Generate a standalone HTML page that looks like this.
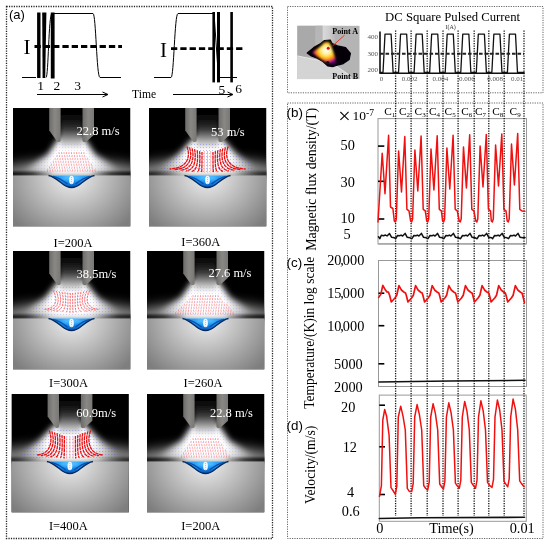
<!DOCTYPE html>
<html><head><meta charset="utf-8"><title>figure</title>
<style>html,body{margin:0;padding:0;background:#fff;}svg{display:block;}</style>
</head><body>
<svg width="550" height="545" viewBox="0 0 550 545">

<defs>
 <filter id="b2" x="-50%" y="-50%" width="200%" height="200%"><feGaussianBlur stdDeviation="2"/></filter>
 <filter id="b4" x="-50%" y="-50%" width="200%" height="200%"><feGaussianBlur stdDeviation="4"/></filter>
 <filter id="b6" x="-50%" y="-50%" width="200%" height="200%"><feGaussianBlur stdDeviation="6"/></filter>
 <filter id="b9" x="-50%" y="-50%" width="200%" height="200%"><feGaussianBlur stdDeviation="9"/></filter>
 <filter id="b3" x="-50%" y="-50%" width="200%" height="200%"><feGaussianBlur stdDeviation="3"/></filter>
 <filter id="b1" x="-50%" y="-50%" width="200%" height="200%"><feGaussianBlur stdDeviation="1"/></filter>
 <radialGradient id="plateG" cx="58.5" cy="68" r="75" gradientUnits="userSpaceOnUse" gradientTransform="translate(58.5 68) scale(1 0.9) translate(-58.5 -68)">
   <stop offset="0" stop-color="#ffffff"/>
   <stop offset="0.22" stop-color="#d8d8d8"/>
   <stop offset="0.55" stop-color="#b2b2b2"/>
   <stop offset="1" stop-color="#7e7e7e"/>
 </radialGradient>
 <linearGradient id="elG" x1="0" y1="0" x2="1" y2="0">
   <stop offset="0" stop-color="#6e6c6a"/>
   <stop offset="0.5" stop-color="#8a8885"/>
   <stop offset="1" stop-color="#7a7876"/>
 </linearGradient>
 <linearGradient id="colG" x1="0" y1="0" x2="0" y2="1">
   <stop offset="0" stop-color="#000"/>
   <stop offset="0.3" stop-color="#0c0c0c"/>
   <stop offset="0.55" stop-color="#3a3a3a"/>
   <stop offset="0.78" stop-color="#9a9a9a"/>
   <stop offset="1" stop-color="#f4f4f4"/>
 </linearGradient>
 <radialGradient id="bellG" cx="58.5" cy="44" r="60" gradientUnits="userSpaceOnUse">
   <stop offset="0" stop-color="#ffffff"/>
   <stop offset="0.38" stop-color="#ffffff"/>
   <stop offset="0.62" stop-color="#cccccc"/>
   <stop offset="0.85" stop-color="#808080"/>
   <stop offset="1" stop-color="#555555"/>
 </radialGradient>
 <linearGradient id="bandG" x1="0" y1="0" x2="1" y2="0">
   <stop offset="0" stop-color="#000" stop-opacity="0.85"/>
   <stop offset="0.2" stop-color="#000" stop-opacity="0.6"/>
   <stop offset="0.36" stop-color="#000" stop-opacity="0"/>
   <stop offset="0.64" stop-color="#000" stop-opacity="0"/>
   <stop offset="0.8" stop-color="#000" stop-opacity="0.6"/>
   <stop offset="1" stop-color="#000" stop-opacity="0.85"/>
 </linearGradient>
 <radialGradient id="poolG" cx="0.5" cy="0.1" r="0.75">
   <stop offset="0" stop-color="#4ab6ff"/>
   <stop offset="0.55" stop-color="#1a92f2"/>
   <stop offset="1" stop-color="#0c62c4"/>
 </radialGradient>
 <linearGradient id="insetBg" x1="0" y1="0" x2="1" y2="1">
   <stop offset="0" stop-color="#b8b8b8"/>
   <stop offset="1" stop-color="#c8c8c8"/>
 </linearGradient>
 <radialGradient id="hotG" cx="0.58" cy="0.38" r="0.62">
   <stop offset="0" stop-color="#ffffff"/>
   <stop offset="0.25" stop-color="#fff8b0"/>
   <stop offset="0.5" stop-color="#ffd020"/>
   <stop offset="0.68" stop-color="#ff7a10"/>
   <stop offset="0.82" stop-color="#c01880"/>
   <stop offset="1" stop-color="#3a0060"/>
 </radialGradient>
 <linearGradient id="colIns" x1="0" y1="0" x2="1" y2="0">
   <stop offset="0" stop-color="#dadada"/>
   <stop offset="0.5" stop-color="#cfcfcf"/>
   <stop offset="1" stop-color="#b8b8b8"/>
 </linearGradient>
</defs>

<rect width="550" height="545" fill="#fff"/>
<rect x="6.5" y="6.5" width="266" height="532" fill="none" stroke="#222" stroke-width="1.3" stroke-dasharray="1.2 1.25"/>
<text x="9" y="18.7" font-family="'Liberation Sans', sans-serif" font-size="13" fill="#000" text-anchor="start" font-weight="normal" >(a)</text>
<g stroke="#000" fill="none">
<path d="M22,77.5 L36,77.5 M46,77.5 C48.5,77.5 48.5,13.5 52,13.5 L93,13.5 C96,13.5 96.5,77.5 100,77.5 L121,77.5" stroke-width="1"/>
<line x1="34.5" y1="46.5" x2="122" y2="46.5" stroke-width="2.8" stroke-dasharray="6.3 3"/>
<rect x="37.1" y="12.5" width="3.4" height="65.5" fill="#000" stroke="none"/>
<path d="M42.2,12.5 L46.4,12.5 L45.2,78 L42.6,78 Z" fill="#000" stroke="none"/>
<rect x="50.8" y="12.5" width="3.8" height="66" fill="#000" stroke="none"/>
<line x1="37" y1="94.5" x2="107" y2="94.5" stroke-width="1"/>
<path d="M102.5,92 L108,94.5 L102.5,97" stroke-width="1"/>
</g>
<text x="23.6" y="53.5" font-family="'Liberation Serif', serif" font-size="21" fill="#000" text-anchor="start" font-weight="normal" >I</text>
<text x="37.2" y="89.5" font-family="'Liberation Serif', serif" font-size="13.5" fill="#000" text-anchor="start" font-weight="normal" >1</text>
<text x="53.6" y="89.5" font-family="'Liberation Serif', serif" font-size="13.5" fill="#000" text-anchor="start" font-weight="normal" >2</text>
<text x="74.3" y="89.5" font-family="'Liberation Serif', serif" font-size="13.5" fill="#000" text-anchor="start" font-weight="normal" >3</text>
<text x="132" y="98" font-family="'Liberation Serif', serif" font-size="11.6" fill="#000" text-anchor="start" font-weight="normal" >Time</text>
<g stroke="#000" fill="none">
<path d="M154,77.5 L171,77.5 C174,77.5 174.5,13.5 178,13.5 L213,13.5" stroke-width="1"/>
<path d="M214,13.5 L218.5,77.5 L237,77.5" stroke-width="1"/>
<line x1="171" y1="48.6" x2="244" y2="48.6" stroke-width="2.8" stroke-dasharray="6.3 3"/>
<rect x="212.4" y="12" width="2.6" height="70.4" fill="#000" stroke="none"/>
<rect x="217" y="12" width="3" height="70.4" fill="#000" stroke="none"/>
<rect x="230.3" y="12" width="2.6" height="70.4" fill="#000" stroke="none"/>
<line x1="173" y1="94.5" x2="232" y2="94.5" stroke-width="1"/>
<path d="M227.5,92 L233,94.5 L227.5,97" stroke-width="1"/>
</g>
<text x="160" y="57" font-family="'Liberation Serif', serif" font-size="21" fill="#000" text-anchor="start" font-weight="normal" >I</text>
<text x="218.6" y="94.4" font-family="'Liberation Serif', serif" font-size="13.5" fill="#000" text-anchor="start" font-weight="normal" >5</text>
<text x="235.3" y="93" font-family="'Liberation Serif', serif" font-size="13.5" fill="#000" text-anchor="start" font-weight="normal" >6</text>
<g transform="translate(13 108)">
<clipPath id="c13_108"><rect x="0" y="0" width="117.5" height="118.6"/></clipPath>
<g clip-path="url(#c13_108)">
<rect x="0" y="0" width="117.5" height="118.6" fill="#000"/>
<ellipse cx="58.5" cy="65" rx="74.0" ry="13.0" fill="#808080" filter="url(#b6)"/>
<path d="M46.0,30 C42.0,38 38.5,42 34.5,47 C24.5,54 13.5,60 2.5,68 L114.5,68 C103.5,60 92.5,54 82.5,47 C78.5,42 75.0,38 71.0,30 Z" fill="url(#bellG)" filter="url(#b3)"/>
<ellipse cx="58.5" cy="46.0" rx="17.0" ry="12.0" fill="#fff" filter="url(#b4)"/>
<rect x="47" y="0" width="22.5" height="40" fill="url(#colG)" filter="url(#b2)"/>
<rect x="-6.0" y="63.5" width="129.5" height="4.5" fill="url(#bandG)" filter="url(#b1)"/>
<path d="M36.2,0 L47.6,0 L47.6,32.3 Q47.6,33.9 46,33.9 L44.5,33.9 L36.2,22.4 Z" fill="url(#elG)"/>
<path d="M69.5,0 L81,0 L81,26.8 L73,33.9 L71,33.9 Q69.5,33.9 69.5,32.3 Z" fill="url(#elG)"/>
<g fill="#4a4aff" opacity="0.22"><rect x="22" y="57" width="0.8" height="0.8"/><rect x="22" y="60" width="0.8" height="0.8"/><rect x="22" y="63" width="0.8" height="0.8"/><rect x="25" y="54" width="0.8" height="0.8"/><rect x="25" y="57" width="0.8" height="0.8"/><rect x="25" y="60" width="0.8" height="0.8"/><rect x="25" y="63" width="0.8" height="0.8"/><rect x="28" y="51" width="0.8" height="0.8"/><rect x="28" y="54" width="0.8" height="0.8"/><rect x="28" y="57" width="0.8" height="0.8"/><rect x="28" y="60" width="0.8" height="0.8"/><rect x="28" y="63" width="0.8" height="0.8"/><rect x="31" y="48" width="0.8" height="0.8"/><rect x="31" y="51" width="0.8" height="0.8"/><rect x="31" y="54" width="0.8" height="0.8"/><rect x="31" y="57" width="0.8" height="0.8"/><rect x="31" y="60" width="0.8" height="0.8"/><rect x="31" y="63" width="0.8" height="0.8"/><rect x="34" y="45" width="0.8" height="0.8"/><rect x="34" y="48" width="0.8" height="0.8"/><rect x="34" y="51" width="0.8" height="0.8"/><rect x="34" y="54" width="0.8" height="0.8"/><rect x="34" y="57" width="0.8" height="0.8"/><rect x="34" y="60" width="0.8" height="0.8"/><rect x="34" y="63" width="0.8" height="0.8"/><rect x="37" y="42" width="0.8" height="0.8"/><rect x="37" y="45" width="0.8" height="0.8"/><rect x="37" y="48" width="0.8" height="0.8"/><rect x="37" y="51" width="0.8" height="0.8"/><rect x="37" y="54" width="0.8" height="0.8"/><rect x="37" y="57" width="0.8" height="0.8"/><rect x="37" y="60" width="0.8" height="0.8"/><rect x="37" y="63" width="0.8" height="0.8"/><rect x="40" y="39" width="0.8" height="0.8"/><rect x="40" y="42" width="0.8" height="0.8"/><rect x="40" y="45" width="0.8" height="0.8"/><rect x="40" y="48" width="0.8" height="0.8"/><rect x="40" y="51" width="0.8" height="0.8"/><rect x="40" y="54" width="0.8" height="0.8"/><rect x="40" y="57" width="0.8" height="0.8"/><rect x="40" y="60" width="0.8" height="0.8"/><rect x="40" y="63" width="0.8" height="0.8"/><rect x="43" y="36" width="0.8" height="0.8"/><rect x="43" y="39" width="0.8" height="0.8"/><rect x="43" y="42" width="0.8" height="0.8"/><rect x="43" y="45" width="0.8" height="0.8"/><rect x="43" y="48" width="0.8" height="0.8"/><rect x="43" y="51" width="0.8" height="0.8"/><rect x="43" y="54" width="0.8" height="0.8"/><rect x="43" y="57" width="0.8" height="0.8"/><rect x="43" y="60" width="0.8" height="0.8"/><rect x="43" y="63" width="0.8" height="0.8"/><rect x="46" y="36" width="0.8" height="0.8"/><rect x="46" y="39" width="0.8" height="0.8"/><rect x="46" y="42" width="0.8" height="0.8"/><rect x="46" y="45" width="0.8" height="0.8"/><rect x="46" y="48" width="0.8" height="0.8"/><rect x="46" y="51" width="0.8" height="0.8"/><rect x="46" y="54" width="0.8" height="0.8"/><rect x="46" y="57" width="0.8" height="0.8"/><rect x="46" y="60" width="0.8" height="0.8"/><rect x="46" y="63" width="0.8" height="0.8"/><rect x="49" y="36" width="0.8" height="0.8"/><rect x="49" y="39" width="0.8" height="0.8"/><rect x="49" y="42" width="0.8" height="0.8"/><rect x="49" y="45" width="0.8" height="0.8"/><rect x="49" y="48" width="0.8" height="0.8"/><rect x="49" y="51" width="0.8" height="0.8"/><rect x="49" y="54" width="0.8" height="0.8"/><rect x="49" y="57" width="0.8" height="0.8"/><rect x="49" y="60" width="0.8" height="0.8"/><rect x="49" y="63" width="0.8" height="0.8"/><rect x="52" y="36" width="0.8" height="0.8"/><rect x="52" y="39" width="0.8" height="0.8"/><rect x="52" y="42" width="0.8" height="0.8"/><rect x="52" y="45" width="0.8" height="0.8"/><rect x="52" y="48" width="0.8" height="0.8"/><rect x="52" y="51" width="0.8" height="0.8"/><rect x="52" y="54" width="0.8" height="0.8"/><rect x="52" y="57" width="0.8" height="0.8"/><rect x="52" y="60" width="0.8" height="0.8"/><rect x="52" y="63" width="0.8" height="0.8"/><rect x="55" y="36" width="0.8" height="0.8"/><rect x="55" y="39" width="0.8" height="0.8"/><rect x="55" y="42" width="0.8" height="0.8"/><rect x="55" y="45" width="0.8" height="0.8"/><rect x="55" y="48" width="0.8" height="0.8"/><rect x="55" y="51" width="0.8" height="0.8"/><rect x="55" y="54" width="0.8" height="0.8"/><rect x="55" y="57" width="0.8" height="0.8"/><rect x="55" y="60" width="0.8" height="0.8"/><rect x="55" y="63" width="0.8" height="0.8"/><rect x="58" y="36" width="0.8" height="0.8"/><rect x="58" y="39" width="0.8" height="0.8"/><rect x="58" y="42" width="0.8" height="0.8"/><rect x="58" y="45" width="0.8" height="0.8"/><rect x="58" y="48" width="0.8" height="0.8"/><rect x="58" y="51" width="0.8" height="0.8"/><rect x="58" y="54" width="0.8" height="0.8"/><rect x="58" y="57" width="0.8" height="0.8"/><rect x="58" y="60" width="0.8" height="0.8"/><rect x="58" y="63" width="0.8" height="0.8"/><rect x="61" y="36" width="0.8" height="0.8"/><rect x="61" y="39" width="0.8" height="0.8"/><rect x="61" y="42" width="0.8" height="0.8"/><rect x="61" y="45" width="0.8" height="0.8"/><rect x="61" y="48" width="0.8" height="0.8"/><rect x="61" y="51" width="0.8" height="0.8"/><rect x="61" y="54" width="0.8" height="0.8"/><rect x="61" y="57" width="0.8" height="0.8"/><rect x="61" y="60" width="0.8" height="0.8"/><rect x="61" y="63" width="0.8" height="0.8"/><rect x="64" y="36" width="0.8" height="0.8"/><rect x="64" y="39" width="0.8" height="0.8"/><rect x="64" y="42" width="0.8" height="0.8"/><rect x="64" y="45" width="0.8" height="0.8"/><rect x="64" y="48" width="0.8" height="0.8"/><rect x="64" y="51" width="0.8" height="0.8"/><rect x="64" y="54" width="0.8" height="0.8"/><rect x="64" y="57" width="0.8" height="0.8"/><rect x="64" y="60" width="0.8" height="0.8"/><rect x="64" y="63" width="0.8" height="0.8"/><rect x="67" y="36" width="0.8" height="0.8"/><rect x="67" y="39" width="0.8" height="0.8"/><rect x="67" y="42" width="0.8" height="0.8"/><rect x="67" y="45" width="0.8" height="0.8"/><rect x="67" y="48" width="0.8" height="0.8"/><rect x="67" y="51" width="0.8" height="0.8"/><rect x="67" y="54" width="0.8" height="0.8"/><rect x="67" y="57" width="0.8" height="0.8"/><rect x="67" y="60" width="0.8" height="0.8"/><rect x="67" y="63" width="0.8" height="0.8"/><rect x="70" y="36" width="0.8" height="0.8"/><rect x="70" y="39" width="0.8" height="0.8"/><rect x="70" y="42" width="0.8" height="0.8"/><rect x="70" y="45" width="0.8" height="0.8"/><rect x="70" y="48" width="0.8" height="0.8"/><rect x="70" y="51" width="0.8" height="0.8"/><rect x="70" y="54" width="0.8" height="0.8"/><rect x="70" y="57" width="0.8" height="0.8"/><rect x="70" y="60" width="0.8" height="0.8"/><rect x="70" y="63" width="0.8" height="0.8"/><rect x="73" y="36" width="0.8" height="0.8"/><rect x="73" y="39" width="0.8" height="0.8"/><rect x="73" y="42" width="0.8" height="0.8"/><rect x="73" y="45" width="0.8" height="0.8"/><rect x="73" y="48" width="0.8" height="0.8"/><rect x="73" y="51" width="0.8" height="0.8"/><rect x="73" y="54" width="0.8" height="0.8"/><rect x="73" y="57" width="0.8" height="0.8"/><rect x="73" y="60" width="0.8" height="0.8"/><rect x="73" y="63" width="0.8" height="0.8"/><rect x="76" y="36" width="0.8" height="0.8"/><rect x="76" y="39" width="0.8" height="0.8"/><rect x="76" y="42" width="0.8" height="0.8"/><rect x="76" y="45" width="0.8" height="0.8"/><rect x="76" y="48" width="0.8" height="0.8"/><rect x="76" y="51" width="0.8" height="0.8"/><rect x="76" y="54" width="0.8" height="0.8"/><rect x="76" y="57" width="0.8" height="0.8"/><rect x="76" y="60" width="0.8" height="0.8"/><rect x="76" y="63" width="0.8" height="0.8"/><rect x="79" y="39" width="0.8" height="0.8"/><rect x="79" y="42" width="0.8" height="0.8"/><rect x="79" y="45" width="0.8" height="0.8"/><rect x="79" y="48" width="0.8" height="0.8"/><rect x="79" y="51" width="0.8" height="0.8"/><rect x="79" y="54" width="0.8" height="0.8"/><rect x="79" y="57" width="0.8" height="0.8"/><rect x="79" y="60" width="0.8" height="0.8"/><rect x="79" y="63" width="0.8" height="0.8"/><rect x="82" y="45" width="0.8" height="0.8"/><rect x="82" y="48" width="0.8" height="0.8"/><rect x="82" y="51" width="0.8" height="0.8"/><rect x="82" y="54" width="0.8" height="0.8"/><rect x="82" y="57" width="0.8" height="0.8"/><rect x="82" y="60" width="0.8" height="0.8"/><rect x="82" y="63" width="0.8" height="0.8"/><rect x="85" y="48" width="0.8" height="0.8"/><rect x="85" y="51" width="0.8" height="0.8"/><rect x="85" y="54" width="0.8" height="0.8"/><rect x="85" y="57" width="0.8" height="0.8"/><rect x="85" y="60" width="0.8" height="0.8"/><rect x="85" y="63" width="0.8" height="0.8"/><rect x="88" y="51" width="0.8" height="0.8"/><rect x="88" y="54" width="0.8" height="0.8"/><rect x="88" y="57" width="0.8" height="0.8"/><rect x="88" y="60" width="0.8" height="0.8"/><rect x="88" y="63" width="0.8" height="0.8"/><rect x="91" y="54" width="0.8" height="0.8"/><rect x="91" y="57" width="0.8" height="0.8"/><rect x="91" y="60" width="0.8" height="0.8"/><rect x="91" y="63" width="0.8" height="0.8"/><rect x="94" y="57" width="0.8" height="0.8"/><rect x="94" y="60" width="0.8" height="0.8"/><rect x="94" y="63" width="0.8" height="0.8"/></g>
<g stroke="#ff3030" stroke-width="0.75" opacity="0.55"><line x1="46.0" y1="44.0" x2="46.0" y2="46.0"/><line x1="48.5" y1="44.0" x2="48.5" y2="46.0"/><line x1="51.0" y1="44.0" x2="51.0" y2="46.0"/><line x1="53.5" y1="44.0" x2="53.5" y2="46.0"/><line x1="56.0" y1="44.0" x2="56.0" y2="46.0"/><line x1="58.5" y1="44.0" x2="58.5" y2="46.0"/><line x1="61.0" y1="44.0" x2="61.0" y2="46.0"/><line x1="63.5" y1="44.0" x2="63.5" y2="46.0"/><line x1="66.0" y1="44.0" x2="66.0" y2="46.0"/><line x1="68.5" y1="44.0" x2="68.5" y2="46.0"/><line x1="71.0" y1="44.0" x2="71.0" y2="46.0"/><line x1="44.1" y1="46.9" x2="44.1" y2="48.9"/><line x1="46.6" y1="46.9" x2="46.6" y2="48.9"/><line x1="49.1" y1="46.9" x2="49.1" y2="48.9"/><line x1="51.6" y1="46.9" x2="51.6" y2="48.9"/><line x1="54.1" y1="46.9" x2="54.1" y2="48.9"/><line x1="56.6" y1="46.9" x2="56.6" y2="48.9"/><line x1="59.1" y1="46.9" x2="59.1" y2="48.9"/><line x1="61.6" y1="46.9" x2="61.6" y2="48.9"/><line x1="64.1" y1="46.9" x2="64.1" y2="48.9"/><line x1="66.6" y1="46.9" x2="66.6" y2="48.9"/><line x1="69.1" y1="46.9" x2="69.1" y2="48.9"/><line x1="71.6" y1="46.9" x2="71.6" y2="48.9"/><line x1="42.2" y1="49.8" x2="42.2" y2="51.8"/><line x1="44.7" y1="49.8" x2="44.7" y2="51.8"/><line x1="47.2" y1="49.8" x2="47.2" y2="51.8"/><line x1="49.7" y1="49.8" x2="49.7" y2="51.8"/><line x1="52.2" y1="49.8" x2="52.2" y2="51.8"/><line x1="54.7" y1="49.8" x2="54.7" y2="51.8"/><line x1="57.2" y1="49.8" x2="57.2" y2="51.8"/><line x1="59.7" y1="49.8" x2="59.7" y2="51.8"/><line x1="62.2" y1="49.8" x2="62.2" y2="51.8"/><line x1="64.7" y1="49.8" x2="64.7" y2="51.8"/><line x1="67.2" y1="49.8" x2="67.2" y2="51.8"/><line x1="69.7" y1="49.8" x2="69.7" y2="51.8"/><line x1="72.2" y1="49.8" x2="72.2" y2="51.8"/><line x1="74.7" y1="49.8" x2="74.7" y2="51.8"/><line x1="40.3" y1="52.7" x2="40.3" y2="54.7"/><line x1="42.8" y1="52.7" x2="42.8" y2="54.7"/><line x1="45.3" y1="52.7" x2="45.3" y2="54.7"/><line x1="47.8" y1="52.7" x2="47.8" y2="54.7"/><line x1="50.3" y1="52.7" x2="50.3" y2="54.7"/><line x1="52.8" y1="52.7" x2="52.8" y2="54.7"/><line x1="55.3" y1="52.7" x2="55.3" y2="54.7"/><line x1="57.8" y1="52.7" x2="57.8" y2="54.7"/><line x1="60.3" y1="52.7" x2="60.3" y2="54.7"/><line x1="62.8" y1="52.7" x2="62.8" y2="54.7"/><line x1="65.3" y1="52.7" x2="65.3" y2="54.7"/><line x1="67.8" y1="52.7" x2="67.8" y2="54.7"/><line x1="70.3" y1="52.7" x2="70.3" y2="54.7"/><line x1="72.8" y1="52.7" x2="72.8" y2="54.7"/><line x1="75.3" y1="52.7" x2="75.3" y2="54.7"/><line x1="38.4" y1="55.6" x2="38.4" y2="57.6"/><line x1="40.9" y1="55.6" x2="40.9" y2="57.6"/><line x1="43.4" y1="55.6" x2="43.4" y2="57.6"/><line x1="45.9" y1="55.6" x2="45.9" y2="57.6"/><line x1="48.4" y1="55.6" x2="48.4" y2="57.6"/><line x1="50.9" y1="55.6" x2="50.9" y2="57.6"/><line x1="53.4" y1="55.6" x2="53.4" y2="57.6"/><line x1="55.9" y1="55.6" x2="55.9" y2="57.6"/><line x1="58.4" y1="55.6" x2="58.4" y2="57.6"/><line x1="60.9" y1="55.6" x2="60.9" y2="57.6"/><line x1="63.4" y1="55.6" x2="63.4" y2="57.6"/><line x1="65.9" y1="55.6" x2="65.9" y2="57.6"/><line x1="68.4" y1="55.6" x2="68.4" y2="57.6"/><line x1="70.9" y1="55.6" x2="70.9" y2="57.6"/><line x1="73.4" y1="55.6" x2="73.4" y2="57.6"/><line x1="75.9" y1="55.6" x2="75.9" y2="57.6"/><line x1="78.4" y1="55.6" x2="78.4" y2="57.6"/><line x1="36.5" y1="58.5" x2="36.5" y2="60.5"/><line x1="39.0" y1="58.5" x2="39.0" y2="60.5"/><line x1="41.5" y1="58.5" x2="41.5" y2="60.5"/><line x1="44.0" y1="58.5" x2="44.0" y2="60.5"/><line x1="46.5" y1="58.5" x2="46.5" y2="60.5"/><line x1="49.0" y1="58.5" x2="49.0" y2="60.5"/><line x1="51.5" y1="58.5" x2="51.5" y2="60.5"/><line x1="54.0" y1="58.5" x2="54.0" y2="60.5"/><line x1="56.5" y1="58.5" x2="56.5" y2="60.5"/><line x1="59.0" y1="58.5" x2="59.0" y2="60.5"/><line x1="61.5" y1="58.5" x2="61.5" y2="60.5"/><line x1="64.0" y1="58.5" x2="64.0" y2="60.5"/><line x1="66.5" y1="58.5" x2="66.5" y2="60.5"/><line x1="69.0" y1="58.5" x2="69.0" y2="60.5"/><line x1="71.5" y1="58.5" x2="71.5" y2="60.5"/><line x1="74.0" y1="58.5" x2="74.0" y2="60.5"/><line x1="76.5" y1="58.5" x2="76.5" y2="60.5"/><line x1="79.0" y1="58.5" x2="79.0" y2="60.5"/><line x1="34.6" y1="61.4" x2="34.6" y2="63.4"/><line x1="37.1" y1="61.4" x2="37.1" y2="63.4"/><line x1="39.6" y1="61.4" x2="39.6" y2="63.4"/><line x1="42.1" y1="61.4" x2="42.1" y2="63.4"/><line x1="44.6" y1="61.4" x2="44.6" y2="63.4"/><line x1="47.1" y1="61.4" x2="47.1" y2="63.4"/><line x1="49.6" y1="61.4" x2="49.6" y2="63.4"/><line x1="52.1" y1="61.4" x2="52.1" y2="63.4"/><line x1="54.6" y1="61.4" x2="54.6" y2="63.4"/><line x1="57.1" y1="61.4" x2="57.1" y2="63.4"/><line x1="59.6" y1="61.4" x2="59.6" y2="63.4"/><line x1="62.1" y1="61.4" x2="62.1" y2="63.4"/><line x1="64.6" y1="61.4" x2="64.6" y2="63.4"/><line x1="67.1" y1="61.4" x2="67.1" y2="63.4"/><line x1="69.6" y1="61.4" x2="69.6" y2="63.4"/><line x1="72.1" y1="61.4" x2="72.1" y2="63.4"/><line x1="74.6" y1="61.4" x2="74.6" y2="63.4"/><line x1="77.1" y1="61.4" x2="77.1" y2="63.4"/><line x1="79.6" y1="61.4" x2="79.6" y2="63.4"/><line x1="82.1" y1="61.4" x2="82.1" y2="63.4"/></g>
<rect x="0" y="67.5" width="117.5" height="51" fill="url(#plateG)"/>
<path d="M35.5,67.5 C40,68 44,71.5 49,75.5 C52.5,78.5 55.5,79.5 58.5,79.5 C61.5,79.5 64.5,78.5 68,75.5 C73,71.5 77,68 81.5,67.5 Z" fill="url(#poolG)"/>
<path d="M35.5,67.5 C40,68 44,71.5 49,75.5 C52.5,78.5 55.5,79.5 58.5,79.5 C61.5,79.5 64.5,78.5 68,75.5 C73,71.5 77,68 81.5,67.5" fill="none" stroke="#03285e" stroke-width="1.3"/>
<path d="M40,68.3 C46,69.5 50,72.5 54.5,76 M77,68.3 C71,69.5 67,72.5 62.5,76" stroke="#0a4fa8" stroke-width="1.3" fill="none"/>
<ellipse cx="58.5" cy="70" rx="9" ry="2.5" fill="#5cc4ff" opacity="0.6" filter="url(#b1)"/>
<ellipse cx="58.5" cy="72" rx="2.4" ry="4.3" fill="#eef8ff"/>
<path d="M58.5,69 L58.5,75.5" stroke="#5a9ae0" stroke-width="0.5" stroke-dasharray="1 1"/>
</g>
<text x="63.5" y="27.3" font-family="'Liberation Serif', serif" font-size="12.5" fill="#fff">22.8 m/s</text>
</g>
<g transform="translate(149 108)">
<clipPath id="c149_108"><rect x="0" y="0" width="117.5" height="118.6"/></clipPath>
<g clip-path="url(#c149_108)">
<rect x="0" y="0" width="117.5" height="118.6" fill="#000"/>
<ellipse cx="58.5" cy="65" rx="80.4" ry="14.6" fill="#808080" filter="url(#b6)"/>
<path d="M44.5,30 C38.0,38 33.7,42 28.7,47 C21.2,54 9.2,60 -2.9,68 L119.9,68 C107.8,60 95.8,54 88.3,47 C83.3,42 79.0,38 72.5,30 Z" fill="url(#bellG)" filter="url(#b3)"/>
<ellipse cx="58.5" cy="47.6" rx="20.2" ry="12.8" fill="#fff" filter="url(#b4)"/>
<rect x="47" y="0" width="22.5" height="40" fill="url(#colG)" filter="url(#b2)"/>
<rect x="-33.2" y="63.5" width="183.9" height="4.5" fill="url(#bandG)" filter="url(#b1)"/>
<path d="M36.2,0 L47.6,0 L47.6,32.3 Q47.6,33.9 46,33.9 L44.5,33.9 L36.2,22.4 Z" fill="url(#elG)"/>
<path d="M69.5,0 L81,0 L81,26.8 L73,33.9 L71,33.9 Q69.5,33.9 69.5,32.3 Z" fill="url(#elG)"/>
<g fill="#4a4aff" opacity="0.54"><rect x="12" y="57" width="0.8" height="0.8"/><rect x="12" y="60" width="0.8" height="0.8"/><rect x="12" y="63" width="0.8" height="0.8"/><rect x="15" y="57" width="0.8" height="0.8"/><rect x="15" y="60" width="0.8" height="0.8"/><rect x="15" y="63" width="0.8" height="0.8"/><rect x="18" y="54" width="0.8" height="0.8"/><rect x="18" y="57" width="0.8" height="0.8"/><rect x="18" y="60" width="0.8" height="0.8"/><rect x="18" y="63" width="0.8" height="0.8"/><rect x="21" y="51" width="0.8" height="0.8"/><rect x="21" y="54" width="0.8" height="0.8"/><rect x="21" y="57" width="0.8" height="0.8"/><rect x="21" y="60" width="0.8" height="0.8"/><rect x="21" y="63" width="0.8" height="0.8"/><rect x="24" y="48" width="0.8" height="0.8"/><rect x="24" y="51" width="0.8" height="0.8"/><rect x="24" y="54" width="0.8" height="0.8"/><rect x="24" y="57" width="0.8" height="0.8"/><rect x="24" y="60" width="0.8" height="0.8"/><rect x="24" y="63" width="0.8" height="0.8"/><rect x="27" y="48" width="0.8" height="0.8"/><rect x="27" y="51" width="0.8" height="0.8"/><rect x="27" y="54" width="0.8" height="0.8"/><rect x="27" y="57" width="0.8" height="0.8"/><rect x="27" y="60" width="0.8" height="0.8"/><rect x="27" y="63" width="0.8" height="0.8"/><rect x="30" y="45" width="0.8" height="0.8"/><rect x="30" y="48" width="0.8" height="0.8"/><rect x="30" y="51" width="0.8" height="0.8"/><rect x="30" y="54" width="0.8" height="0.8"/><rect x="30" y="57" width="0.8" height="0.8"/><rect x="30" y="60" width="0.8" height="0.8"/><rect x="30" y="63" width="0.8" height="0.8"/><rect x="33" y="42" width="0.8" height="0.8"/><rect x="33" y="45" width="0.8" height="0.8"/><rect x="33" y="48" width="0.8" height="0.8"/><rect x="33" y="51" width="0.8" height="0.8"/><rect x="33" y="54" width="0.8" height="0.8"/><rect x="33" y="57" width="0.8" height="0.8"/><rect x="33" y="60" width="0.8" height="0.8"/><rect x="33" y="63" width="0.8" height="0.8"/><rect x="36" y="42" width="0.8" height="0.8"/><rect x="36" y="45" width="0.8" height="0.8"/><rect x="36" y="48" width="0.8" height="0.8"/><rect x="36" y="51" width="0.8" height="0.8"/><rect x="36" y="54" width="0.8" height="0.8"/><rect x="36" y="57" width="0.8" height="0.8"/><rect x="36" y="60" width="0.8" height="0.8"/><rect x="36" y="63" width="0.8" height="0.8"/><rect x="39" y="39" width="0.8" height="0.8"/><rect x="39" y="42" width="0.8" height="0.8"/><rect x="39" y="45" width="0.8" height="0.8"/><rect x="39" y="48" width="0.8" height="0.8"/><rect x="39" y="51" width="0.8" height="0.8"/><rect x="39" y="54" width="0.8" height="0.8"/><rect x="39" y="57" width="0.8" height="0.8"/><rect x="39" y="60" width="0.8" height="0.8"/><rect x="39" y="63" width="0.8" height="0.8"/><rect x="42" y="36" width="0.8" height="0.8"/><rect x="42" y="39" width="0.8" height="0.8"/><rect x="42" y="42" width="0.8" height="0.8"/><rect x="42" y="45" width="0.8" height="0.8"/><rect x="42" y="48" width="0.8" height="0.8"/><rect x="42" y="51" width="0.8" height="0.8"/><rect x="42" y="54" width="0.8" height="0.8"/><rect x="42" y="57" width="0.8" height="0.8"/><rect x="42" y="60" width="0.8" height="0.8"/><rect x="42" y="63" width="0.8" height="0.8"/><rect x="45" y="36" width="0.8" height="0.8"/><rect x="45" y="39" width="0.8" height="0.8"/><rect x="45" y="42" width="0.8" height="0.8"/><rect x="45" y="45" width="0.8" height="0.8"/><rect x="45" y="48" width="0.8" height="0.8"/><rect x="45" y="51" width="0.8" height="0.8"/><rect x="45" y="54" width="0.8" height="0.8"/><rect x="45" y="57" width="0.8" height="0.8"/><rect x="45" y="60" width="0.8" height="0.8"/><rect x="45" y="63" width="0.8" height="0.8"/><rect x="48" y="36" width="0.8" height="0.8"/><rect x="48" y="39" width="0.8" height="0.8"/><rect x="48" y="42" width="0.8" height="0.8"/><rect x="48" y="45" width="0.8" height="0.8"/><rect x="48" y="48" width="0.8" height="0.8"/><rect x="48" y="51" width="0.8" height="0.8"/><rect x="48" y="54" width="0.8" height="0.8"/><rect x="48" y="57" width="0.8" height="0.8"/><rect x="48" y="60" width="0.8" height="0.8"/><rect x="48" y="63" width="0.8" height="0.8"/><rect x="51" y="36" width="0.8" height="0.8"/><rect x="51" y="39" width="0.8" height="0.8"/><rect x="51" y="42" width="0.8" height="0.8"/><rect x="51" y="45" width="0.8" height="0.8"/><rect x="51" y="48" width="0.8" height="0.8"/><rect x="51" y="51" width="0.8" height="0.8"/><rect x="51" y="54" width="0.8" height="0.8"/><rect x="51" y="57" width="0.8" height="0.8"/><rect x="51" y="60" width="0.8" height="0.8"/><rect x="51" y="63" width="0.8" height="0.8"/><rect x="54" y="36" width="0.8" height="0.8"/><rect x="54" y="39" width="0.8" height="0.8"/><rect x="54" y="42" width="0.8" height="0.8"/><rect x="54" y="45" width="0.8" height="0.8"/><rect x="54" y="48" width="0.8" height="0.8"/><rect x="54" y="51" width="0.8" height="0.8"/><rect x="54" y="54" width="0.8" height="0.8"/><rect x="54" y="57" width="0.8" height="0.8"/><rect x="54" y="60" width="0.8" height="0.8"/><rect x="54" y="63" width="0.8" height="0.8"/><rect x="57" y="36" width="0.8" height="0.8"/><rect x="57" y="39" width="0.8" height="0.8"/><rect x="57" y="42" width="0.8" height="0.8"/><rect x="57" y="45" width="0.8" height="0.8"/><rect x="57" y="48" width="0.8" height="0.8"/><rect x="57" y="51" width="0.8" height="0.8"/><rect x="57" y="54" width="0.8" height="0.8"/><rect x="57" y="57" width="0.8" height="0.8"/><rect x="57" y="60" width="0.8" height="0.8"/><rect x="57" y="63" width="0.8" height="0.8"/><rect x="60" y="36" width="0.8" height="0.8"/><rect x="60" y="39" width="0.8" height="0.8"/><rect x="60" y="42" width="0.8" height="0.8"/><rect x="60" y="45" width="0.8" height="0.8"/><rect x="60" y="48" width="0.8" height="0.8"/><rect x="60" y="51" width="0.8" height="0.8"/><rect x="60" y="54" width="0.8" height="0.8"/><rect x="60" y="57" width="0.8" height="0.8"/><rect x="60" y="60" width="0.8" height="0.8"/><rect x="60" y="63" width="0.8" height="0.8"/><rect x="63" y="36" width="0.8" height="0.8"/><rect x="63" y="39" width="0.8" height="0.8"/><rect x="63" y="42" width="0.8" height="0.8"/><rect x="63" y="45" width="0.8" height="0.8"/><rect x="63" y="48" width="0.8" height="0.8"/><rect x="63" y="51" width="0.8" height="0.8"/><rect x="63" y="54" width="0.8" height="0.8"/><rect x="63" y="57" width="0.8" height="0.8"/><rect x="63" y="60" width="0.8" height="0.8"/><rect x="63" y="63" width="0.8" height="0.8"/><rect x="66" y="36" width="0.8" height="0.8"/><rect x="66" y="39" width="0.8" height="0.8"/><rect x="66" y="42" width="0.8" height="0.8"/><rect x="66" y="45" width="0.8" height="0.8"/><rect x="66" y="48" width="0.8" height="0.8"/><rect x="66" y="51" width="0.8" height="0.8"/><rect x="66" y="54" width="0.8" height="0.8"/><rect x="66" y="57" width="0.8" height="0.8"/><rect x="66" y="60" width="0.8" height="0.8"/><rect x="66" y="63" width="0.8" height="0.8"/><rect x="69" y="36" width="0.8" height="0.8"/><rect x="69" y="39" width="0.8" height="0.8"/><rect x="69" y="42" width="0.8" height="0.8"/><rect x="69" y="45" width="0.8" height="0.8"/><rect x="69" y="48" width="0.8" height="0.8"/><rect x="69" y="51" width="0.8" height="0.8"/><rect x="69" y="54" width="0.8" height="0.8"/><rect x="69" y="57" width="0.8" height="0.8"/><rect x="69" y="60" width="0.8" height="0.8"/><rect x="69" y="63" width="0.8" height="0.8"/><rect x="72" y="36" width="0.8" height="0.8"/><rect x="72" y="39" width="0.8" height="0.8"/><rect x="72" y="42" width="0.8" height="0.8"/><rect x="72" y="45" width="0.8" height="0.8"/><rect x="72" y="48" width="0.8" height="0.8"/><rect x="72" y="51" width="0.8" height="0.8"/><rect x="72" y="54" width="0.8" height="0.8"/><rect x="72" y="57" width="0.8" height="0.8"/><rect x="72" y="60" width="0.8" height="0.8"/><rect x="72" y="63" width="0.8" height="0.8"/><rect x="75" y="36" width="0.8" height="0.8"/><rect x="75" y="39" width="0.8" height="0.8"/><rect x="75" y="42" width="0.8" height="0.8"/><rect x="75" y="45" width="0.8" height="0.8"/><rect x="75" y="48" width="0.8" height="0.8"/><rect x="75" y="51" width="0.8" height="0.8"/><rect x="75" y="54" width="0.8" height="0.8"/><rect x="75" y="57" width="0.8" height="0.8"/><rect x="75" y="60" width="0.8" height="0.8"/><rect x="75" y="63" width="0.8" height="0.8"/><rect x="78" y="39" width="0.8" height="0.8"/><rect x="78" y="42" width="0.8" height="0.8"/><rect x="78" y="45" width="0.8" height="0.8"/><rect x="78" y="48" width="0.8" height="0.8"/><rect x="78" y="51" width="0.8" height="0.8"/><rect x="78" y="54" width="0.8" height="0.8"/><rect x="78" y="57" width="0.8" height="0.8"/><rect x="78" y="60" width="0.8" height="0.8"/><rect x="78" y="63" width="0.8" height="0.8"/><rect x="81" y="42" width="0.8" height="0.8"/><rect x="81" y="45" width="0.8" height="0.8"/><rect x="81" y="48" width="0.8" height="0.8"/><rect x="81" y="51" width="0.8" height="0.8"/><rect x="81" y="54" width="0.8" height="0.8"/><rect x="81" y="57" width="0.8" height="0.8"/><rect x="81" y="60" width="0.8" height="0.8"/><rect x="81" y="63" width="0.8" height="0.8"/><rect x="84" y="42" width="0.8" height="0.8"/><rect x="84" y="45" width="0.8" height="0.8"/><rect x="84" y="48" width="0.8" height="0.8"/><rect x="84" y="51" width="0.8" height="0.8"/><rect x="84" y="54" width="0.8" height="0.8"/><rect x="84" y="57" width="0.8" height="0.8"/><rect x="84" y="60" width="0.8" height="0.8"/><rect x="84" y="63" width="0.8" height="0.8"/><rect x="87" y="45" width="0.8" height="0.8"/><rect x="87" y="48" width="0.8" height="0.8"/><rect x="87" y="51" width="0.8" height="0.8"/><rect x="87" y="54" width="0.8" height="0.8"/><rect x="87" y="57" width="0.8" height="0.8"/><rect x="87" y="60" width="0.8" height="0.8"/><rect x="87" y="63" width="0.8" height="0.8"/><rect x="90" y="48" width="0.8" height="0.8"/><rect x="90" y="51" width="0.8" height="0.8"/><rect x="90" y="54" width="0.8" height="0.8"/><rect x="90" y="57" width="0.8" height="0.8"/><rect x="90" y="60" width="0.8" height="0.8"/><rect x="90" y="63" width="0.8" height="0.8"/><rect x="93" y="48" width="0.8" height="0.8"/><rect x="93" y="51" width="0.8" height="0.8"/><rect x="93" y="54" width="0.8" height="0.8"/><rect x="93" y="57" width="0.8" height="0.8"/><rect x="93" y="60" width="0.8" height="0.8"/><rect x="93" y="63" width="0.8" height="0.8"/><rect x="96" y="51" width="0.8" height="0.8"/><rect x="96" y="54" width="0.8" height="0.8"/><rect x="96" y="57" width="0.8" height="0.8"/><rect x="96" y="60" width="0.8" height="0.8"/><rect x="96" y="63" width="0.8" height="0.8"/><rect x="99" y="54" width="0.8" height="0.8"/><rect x="99" y="57" width="0.8" height="0.8"/><rect x="99" y="60" width="0.8" height="0.8"/><rect x="99" y="63" width="0.8" height="0.8"/><rect x="102" y="57" width="0.8" height="0.8"/><rect x="102" y="60" width="0.8" height="0.8"/><rect x="102" y="63" width="0.8" height="0.8"/></g>
<g stroke="#e81010" stroke-width="1.30" fill="none" opacity="1.00" stroke-dasharray="3.6 0.5" stroke-linecap="butt"><path d="M53.0,44.0 C53.0,52.0 53.0,63.5 52.5,64.5"/><path d="M50.6,43.1 C51.0,51.1 51.0,62.9 48.5,63.9"/><path d="M48.2,42.2 C49.0,50.2 49.0,62.3 42.9,63.3"/><path d="M45.6,41.2 C47.0,49.2 47.0,61.8 37.0,62.8"/><path d="M43.1,40.3 C45.0,48.3 45.0,61.2 31.1,62.2"/><path d="M40.5,39.4 C43.0,47.4 43.0,60.6 25.6,61.6"/><path d="M37.9,38.5 C41.0,46.5 41.0,60.0 20.5,61.0"/><path d="M64.0,44.0 C64.0,52.0 64.0,63.5 64.5,64.5"/><path d="M66.4,43.1 C66.0,51.1 66.0,62.9 68.5,63.9"/><path d="M68.8,42.2 C68.0,50.2 68.0,62.3 74.1,63.3"/><path d="M71.4,41.2 C70.0,49.2 70.0,61.8 80.0,62.8"/><path d="M73.9,40.3 C72.0,48.3 72.0,61.2 85.9,62.2"/><path d="M76.5,39.4 C74.0,47.4 74.0,60.6 91.4,61.6"/><path d="M79.2,38.5 C76.0,46.5 76.0,60.0 96.5,61.0"/><line x1="55.3" y1="43" x2="55.3" y2="64.5" stroke-width="0.6" opacity="0.55"/><line x1="58.5" y1="43" x2="58.5" y2="64.5" stroke-width="0.6" opacity="0.55"/><line x1="61.7" y1="43" x2="61.7" y2="64.5" stroke-width="0.6" opacity="0.55"/></g>
<rect x="0" y="67.5" width="117.5" height="51" fill="url(#plateG)"/>
<path d="M35.5,67.5 C40,68 44,71.5 49,75.5 C52.5,78.5 55.5,79.5 58.5,79.5 C61.5,79.5 64.5,78.5 68,75.5 C73,71.5 77,68 81.5,67.5 Z" fill="url(#poolG)"/>
<path d="M35.5,67.5 C40,68 44,71.5 49,75.5 C52.5,78.5 55.5,79.5 58.5,79.5 C61.5,79.5 64.5,78.5 68,75.5 C73,71.5 77,68 81.5,67.5" fill="none" stroke="#03285e" stroke-width="1.3"/>
<path d="M40,68.3 C46,69.5 50,72.5 54.5,76 M77,68.3 C71,69.5 67,72.5 62.5,76" stroke="#0a4fa8" stroke-width="1.3" fill="none"/>
<ellipse cx="58.5" cy="70" rx="9" ry="2.5" fill="#5cc4ff" opacity="0.6" filter="url(#b1)"/>
<ellipse cx="58.5" cy="72" rx="2.4" ry="4.3" fill="#eef8ff"/>
<path d="M58.5,69 L58.5,75.5" stroke="#5a9ae0" stroke-width="0.5" stroke-dasharray="1 1"/>
</g>
<text x="62" y="28" font-family="'Liberation Serif', serif" font-size="12.5" fill="#fff">53 m/s</text>
</g>
<g transform="translate(13 251)">
<clipPath id="c13_251"><rect x="0" y="0" width="117.5" height="118.6"/></clipPath>
<g clip-path="url(#c13_251)">
<rect x="0" y="0" width="117.5" height="118.6" fill="#000"/>
<ellipse cx="58.5" cy="65" rx="76.8" ry="13.7" fill="#808080" filter="url(#b6)"/>
<path d="M45.3,30 C40.3,38 36.4,42 32.0,47 C23.1,54 11.6,60 0.1,68 L116.9,68 C105.4,60 93.9,54 85.0,47 C80.6,42 76.7,38 71.7,30 Z" fill="url(#bellG)" filter="url(#b3)"/>
<ellipse cx="58.5" cy="46.7" rx="18.4" ry="12.3" fill="#fff" filter="url(#b4)"/>
<rect x="47" y="0" width="22.5" height="40" fill="url(#colG)" filter="url(#b2)"/>
<rect x="-17.9" y="63.5" width="153.3" height="4.5" fill="url(#bandG)" filter="url(#b1)"/>
<path d="M36.2,0 L47.6,0 L47.6,32.3 Q47.6,33.9 46,33.9 L44.5,33.9 L36.2,22.4 Z" fill="url(#elG)"/>
<path d="M69.5,0 L81,0 L81,26.8 L73,33.9 L71,33.9 Q69.5,33.9 69.5,32.3 Z" fill="url(#elG)"/>
<g fill="#4a4aff" opacity="0.36"><rect x="17" y="60" width="0.8" height="0.8"/><rect x="17" y="63" width="0.8" height="0.8"/><rect x="20" y="57" width="0.8" height="0.8"/><rect x="20" y="60" width="0.8" height="0.8"/><rect x="20" y="63" width="0.8" height="0.8"/><rect x="23" y="54" width="0.8" height="0.8"/><rect x="23" y="57" width="0.8" height="0.8"/><rect x="23" y="60" width="0.8" height="0.8"/><rect x="23" y="63" width="0.8" height="0.8"/><rect x="26" y="51" width="0.8" height="0.8"/><rect x="26" y="54" width="0.8" height="0.8"/><rect x="26" y="57" width="0.8" height="0.8"/><rect x="26" y="60" width="0.8" height="0.8"/><rect x="26" y="63" width="0.8" height="0.8"/><rect x="29" y="48" width="0.8" height="0.8"/><rect x="29" y="51" width="0.8" height="0.8"/><rect x="29" y="54" width="0.8" height="0.8"/><rect x="29" y="57" width="0.8" height="0.8"/><rect x="29" y="60" width="0.8" height="0.8"/><rect x="29" y="63" width="0.8" height="0.8"/><rect x="32" y="45" width="0.8" height="0.8"/><rect x="32" y="48" width="0.8" height="0.8"/><rect x="32" y="51" width="0.8" height="0.8"/><rect x="32" y="54" width="0.8" height="0.8"/><rect x="32" y="57" width="0.8" height="0.8"/><rect x="32" y="60" width="0.8" height="0.8"/><rect x="32" y="63" width="0.8" height="0.8"/><rect x="35" y="42" width="0.8" height="0.8"/><rect x="35" y="45" width="0.8" height="0.8"/><rect x="35" y="48" width="0.8" height="0.8"/><rect x="35" y="51" width="0.8" height="0.8"/><rect x="35" y="54" width="0.8" height="0.8"/><rect x="35" y="57" width="0.8" height="0.8"/><rect x="35" y="60" width="0.8" height="0.8"/><rect x="35" y="63" width="0.8" height="0.8"/><rect x="38" y="39" width="0.8" height="0.8"/><rect x="38" y="42" width="0.8" height="0.8"/><rect x="38" y="45" width="0.8" height="0.8"/><rect x="38" y="48" width="0.8" height="0.8"/><rect x="38" y="51" width="0.8" height="0.8"/><rect x="38" y="54" width="0.8" height="0.8"/><rect x="38" y="57" width="0.8" height="0.8"/><rect x="38" y="60" width="0.8" height="0.8"/><rect x="38" y="63" width="0.8" height="0.8"/><rect x="41" y="36" width="0.8" height="0.8"/><rect x="41" y="39" width="0.8" height="0.8"/><rect x="41" y="42" width="0.8" height="0.8"/><rect x="41" y="45" width="0.8" height="0.8"/><rect x="41" y="48" width="0.8" height="0.8"/><rect x="41" y="51" width="0.8" height="0.8"/><rect x="41" y="54" width="0.8" height="0.8"/><rect x="41" y="57" width="0.8" height="0.8"/><rect x="41" y="60" width="0.8" height="0.8"/><rect x="41" y="63" width="0.8" height="0.8"/><rect x="44" y="36" width="0.8" height="0.8"/><rect x="44" y="39" width="0.8" height="0.8"/><rect x="44" y="42" width="0.8" height="0.8"/><rect x="44" y="45" width="0.8" height="0.8"/><rect x="44" y="48" width="0.8" height="0.8"/><rect x="44" y="51" width="0.8" height="0.8"/><rect x="44" y="54" width="0.8" height="0.8"/><rect x="44" y="57" width="0.8" height="0.8"/><rect x="44" y="60" width="0.8" height="0.8"/><rect x="44" y="63" width="0.8" height="0.8"/><rect x="47" y="36" width="0.8" height="0.8"/><rect x="47" y="39" width="0.8" height="0.8"/><rect x="47" y="42" width="0.8" height="0.8"/><rect x="47" y="45" width="0.8" height="0.8"/><rect x="47" y="48" width="0.8" height="0.8"/><rect x="47" y="51" width="0.8" height="0.8"/><rect x="47" y="54" width="0.8" height="0.8"/><rect x="47" y="57" width="0.8" height="0.8"/><rect x="47" y="60" width="0.8" height="0.8"/><rect x="47" y="63" width="0.8" height="0.8"/><rect x="50" y="36" width="0.8" height="0.8"/><rect x="50" y="39" width="0.8" height="0.8"/><rect x="50" y="42" width="0.8" height="0.8"/><rect x="50" y="45" width="0.8" height="0.8"/><rect x="50" y="48" width="0.8" height="0.8"/><rect x="50" y="51" width="0.8" height="0.8"/><rect x="50" y="54" width="0.8" height="0.8"/><rect x="50" y="57" width="0.8" height="0.8"/><rect x="50" y="60" width="0.8" height="0.8"/><rect x="50" y="63" width="0.8" height="0.8"/><rect x="53" y="36" width="0.8" height="0.8"/><rect x="53" y="39" width="0.8" height="0.8"/><rect x="53" y="42" width="0.8" height="0.8"/><rect x="53" y="45" width="0.8" height="0.8"/><rect x="53" y="48" width="0.8" height="0.8"/><rect x="53" y="51" width="0.8" height="0.8"/><rect x="53" y="54" width="0.8" height="0.8"/><rect x="53" y="57" width="0.8" height="0.8"/><rect x="53" y="60" width="0.8" height="0.8"/><rect x="53" y="63" width="0.8" height="0.8"/><rect x="56" y="36" width="0.8" height="0.8"/><rect x="56" y="39" width="0.8" height="0.8"/><rect x="56" y="42" width="0.8" height="0.8"/><rect x="56" y="45" width="0.8" height="0.8"/><rect x="56" y="48" width="0.8" height="0.8"/><rect x="56" y="51" width="0.8" height="0.8"/><rect x="56" y="54" width="0.8" height="0.8"/><rect x="56" y="57" width="0.8" height="0.8"/><rect x="56" y="60" width="0.8" height="0.8"/><rect x="56" y="63" width="0.8" height="0.8"/><rect x="59" y="36" width="0.8" height="0.8"/><rect x="59" y="39" width="0.8" height="0.8"/><rect x="59" y="42" width="0.8" height="0.8"/><rect x="59" y="45" width="0.8" height="0.8"/><rect x="59" y="48" width="0.8" height="0.8"/><rect x="59" y="51" width="0.8" height="0.8"/><rect x="59" y="54" width="0.8" height="0.8"/><rect x="59" y="57" width="0.8" height="0.8"/><rect x="59" y="60" width="0.8" height="0.8"/><rect x="59" y="63" width="0.8" height="0.8"/><rect x="62" y="36" width="0.8" height="0.8"/><rect x="62" y="39" width="0.8" height="0.8"/><rect x="62" y="42" width="0.8" height="0.8"/><rect x="62" y="45" width="0.8" height="0.8"/><rect x="62" y="48" width="0.8" height="0.8"/><rect x="62" y="51" width="0.8" height="0.8"/><rect x="62" y="54" width="0.8" height="0.8"/><rect x="62" y="57" width="0.8" height="0.8"/><rect x="62" y="60" width="0.8" height="0.8"/><rect x="62" y="63" width="0.8" height="0.8"/><rect x="65" y="36" width="0.8" height="0.8"/><rect x="65" y="39" width="0.8" height="0.8"/><rect x="65" y="42" width="0.8" height="0.8"/><rect x="65" y="45" width="0.8" height="0.8"/><rect x="65" y="48" width="0.8" height="0.8"/><rect x="65" y="51" width="0.8" height="0.8"/><rect x="65" y="54" width="0.8" height="0.8"/><rect x="65" y="57" width="0.8" height="0.8"/><rect x="65" y="60" width="0.8" height="0.8"/><rect x="65" y="63" width="0.8" height="0.8"/><rect x="68" y="36" width="0.8" height="0.8"/><rect x="68" y="39" width="0.8" height="0.8"/><rect x="68" y="42" width="0.8" height="0.8"/><rect x="68" y="45" width="0.8" height="0.8"/><rect x="68" y="48" width="0.8" height="0.8"/><rect x="68" y="51" width="0.8" height="0.8"/><rect x="68" y="54" width="0.8" height="0.8"/><rect x="68" y="57" width="0.8" height="0.8"/><rect x="68" y="60" width="0.8" height="0.8"/><rect x="68" y="63" width="0.8" height="0.8"/><rect x="71" y="36" width="0.8" height="0.8"/><rect x="71" y="39" width="0.8" height="0.8"/><rect x="71" y="42" width="0.8" height="0.8"/><rect x="71" y="45" width="0.8" height="0.8"/><rect x="71" y="48" width="0.8" height="0.8"/><rect x="71" y="51" width="0.8" height="0.8"/><rect x="71" y="54" width="0.8" height="0.8"/><rect x="71" y="57" width="0.8" height="0.8"/><rect x="71" y="60" width="0.8" height="0.8"/><rect x="71" y="63" width="0.8" height="0.8"/><rect x="74" y="36" width="0.8" height="0.8"/><rect x="74" y="39" width="0.8" height="0.8"/><rect x="74" y="42" width="0.8" height="0.8"/><rect x="74" y="45" width="0.8" height="0.8"/><rect x="74" y="48" width="0.8" height="0.8"/><rect x="74" y="51" width="0.8" height="0.8"/><rect x="74" y="54" width="0.8" height="0.8"/><rect x="74" y="57" width="0.8" height="0.8"/><rect x="74" y="60" width="0.8" height="0.8"/><rect x="74" y="63" width="0.8" height="0.8"/><rect x="77" y="39" width="0.8" height="0.8"/><rect x="77" y="42" width="0.8" height="0.8"/><rect x="77" y="45" width="0.8" height="0.8"/><rect x="77" y="48" width="0.8" height="0.8"/><rect x="77" y="51" width="0.8" height="0.8"/><rect x="77" y="54" width="0.8" height="0.8"/><rect x="77" y="57" width="0.8" height="0.8"/><rect x="77" y="60" width="0.8" height="0.8"/><rect x="77" y="63" width="0.8" height="0.8"/><rect x="80" y="42" width="0.8" height="0.8"/><rect x="80" y="45" width="0.8" height="0.8"/><rect x="80" y="48" width="0.8" height="0.8"/><rect x="80" y="51" width="0.8" height="0.8"/><rect x="80" y="54" width="0.8" height="0.8"/><rect x="80" y="57" width="0.8" height="0.8"/><rect x="80" y="60" width="0.8" height="0.8"/><rect x="80" y="63" width="0.8" height="0.8"/><rect x="83" y="42" width="0.8" height="0.8"/><rect x="83" y="45" width="0.8" height="0.8"/><rect x="83" y="48" width="0.8" height="0.8"/><rect x="83" y="51" width="0.8" height="0.8"/><rect x="83" y="54" width="0.8" height="0.8"/><rect x="83" y="57" width="0.8" height="0.8"/><rect x="83" y="60" width="0.8" height="0.8"/><rect x="83" y="63" width="0.8" height="0.8"/><rect x="86" y="45" width="0.8" height="0.8"/><rect x="86" y="48" width="0.8" height="0.8"/><rect x="86" y="51" width="0.8" height="0.8"/><rect x="86" y="54" width="0.8" height="0.8"/><rect x="86" y="57" width="0.8" height="0.8"/><rect x="86" y="60" width="0.8" height="0.8"/><rect x="86" y="63" width="0.8" height="0.8"/><rect x="89" y="48" width="0.8" height="0.8"/><rect x="89" y="51" width="0.8" height="0.8"/><rect x="89" y="54" width="0.8" height="0.8"/><rect x="89" y="57" width="0.8" height="0.8"/><rect x="89" y="60" width="0.8" height="0.8"/><rect x="89" y="63" width="0.8" height="0.8"/><rect x="92" y="51" width="0.8" height="0.8"/><rect x="92" y="54" width="0.8" height="0.8"/><rect x="92" y="57" width="0.8" height="0.8"/><rect x="92" y="60" width="0.8" height="0.8"/><rect x="92" y="63" width="0.8" height="0.8"/><rect x="95" y="54" width="0.8" height="0.8"/><rect x="95" y="57" width="0.8" height="0.8"/><rect x="95" y="60" width="0.8" height="0.8"/><rect x="95" y="63" width="0.8" height="0.8"/><rect x="98" y="57" width="0.8" height="0.8"/><rect x="98" y="60" width="0.8" height="0.8"/><rect x="98" y="63" width="0.8" height="0.8"/></g>
<g stroke="#ff2424" stroke-width="0.80" fill="none" opacity="0.80" stroke-dasharray="2.2 0.8" stroke-linecap="butt"><path d="M57.3,42.0 C57.3,50.0 57.3,61.0 56.8,62.0"/><path d="M54.7,41.6 C55.2,49.6 55.2,60.4 53.2,61.4"/><path d="M51.9,41.2 C53.1,49.2 53.1,59.8 48.2,60.8"/><path d="M49.0,40.8 C51.0,48.8 51.0,59.2 43.2,60.2"/><path d="M46.1,40.3 C48.9,48.3 48.9,58.7 38.5,59.7"/><path d="M43.2,39.9 C46.8,47.9 46.8,58.1 34.2,59.1"/><path d="M40.2,39.5 C44.7,47.5 44.7,57.5 30.5,58.5"/><path d="M59.7,42.0 C59.7,50.0 59.7,61.0 60.2,62.0"/><path d="M62.3,41.6 C61.8,49.6 61.8,60.4 63.8,61.4"/><path d="M65.1,41.2 C63.9,49.2 63.9,59.8 68.8,60.8"/><path d="M68.0,40.8 C66.0,48.8 66.0,59.2 73.8,60.2"/><path d="M70.9,40.3 C68.1,48.3 68.1,58.7 78.5,59.7"/><path d="M73.8,39.9 C70.2,47.9 70.2,58.1 82.8,59.1"/><path d="M76.8,39.5 C72.3,47.5 72.3,57.5 86.5,58.5"/></g>
<rect x="0" y="67.5" width="117.5" height="51" fill="url(#plateG)"/>
<path d="M35.5,67.5 C40,68 44,71.5 49,75.5 C52.5,78.5 55.5,79.5 58.5,79.5 C61.5,79.5 64.5,78.5 68,75.5 C73,71.5 77,68 81.5,67.5 Z" fill="url(#poolG)"/>
<path d="M35.5,67.5 C40,68 44,71.5 49,75.5 C52.5,78.5 55.5,79.5 58.5,79.5 C61.5,79.5 64.5,78.5 68,75.5 C73,71.5 77,68 81.5,67.5" fill="none" stroke="#03285e" stroke-width="1.3"/>
<path d="M40,68.3 C46,69.5 50,72.5 54.5,76 M77,68.3 C71,69.5 67,72.5 62.5,76" stroke="#0a4fa8" stroke-width="1.3" fill="none"/>
<ellipse cx="58.5" cy="70" rx="9" ry="2.5" fill="#5cc4ff" opacity="0.6" filter="url(#b1)"/>
<ellipse cx="58.5" cy="72" rx="2.4" ry="4.3" fill="#eef8ff"/>
<path d="M58.5,69 L58.5,75.5" stroke="#5a9ae0" stroke-width="0.5" stroke-dasharray="1 1"/>
</g>
<text x="63.5" y="27" font-family="'Liberation Serif', serif" font-size="12.5" fill="#fff">38.5m/s</text>
</g>
<g transform="translate(147 251)">
<clipPath id="c147_251"><rect x="0" y="0" width="117.5" height="118.6"/></clipPath>
<g clip-path="url(#c147_251)">
<rect x="0" y="0" width="117.5" height="118.6" fill="#000"/>
<ellipse cx="58.5" cy="65" rx="74.8" ry="13.2" fill="#808080" filter="url(#b6)"/>
<path d="M45.8,30 C41.5,38 37.9,42 33.8,47 C24.1,54 13.0,60 1.8,68 L115.2,68 C104.0,60 92.9,54 83.2,47 C79.1,42 75.5,38 71.2,30 Z" fill="url(#bellG)" filter="url(#b3)"/>
<ellipse cx="58.5" cy="46.2" rx="17.4" ry="12.1" fill="#fff" filter="url(#b4)"/>
<rect x="47" y="0" width="22.5" height="40" fill="url(#colG)" filter="url(#b2)"/>
<rect x="-9.4" y="63.5" width="136.3" height="4.5" fill="url(#bandG)" filter="url(#b1)"/>
<path d="M36.2,0 L47.6,0 L47.6,32.3 Q47.6,33.9 46,33.9 L44.5,33.9 L36.2,22.4 Z" fill="url(#elG)"/>
<path d="M69.5,0 L81,0 L81,26.8 L73,33.9 L71,33.9 Q69.5,33.9 69.5,32.3 Z" fill="url(#elG)"/>
<g fill="#4a4aff" opacity="0.26"><rect x="20" y="60" width="0.8" height="0.8"/><rect x="20" y="63" width="0.8" height="0.8"/><rect x="23" y="57" width="0.8" height="0.8"/><rect x="23" y="60" width="0.8" height="0.8"/><rect x="23" y="63" width="0.8" height="0.8"/><rect x="26" y="54" width="0.8" height="0.8"/><rect x="26" y="57" width="0.8" height="0.8"/><rect x="26" y="60" width="0.8" height="0.8"/><rect x="26" y="63" width="0.8" height="0.8"/><rect x="29" y="48" width="0.8" height="0.8"/><rect x="29" y="51" width="0.8" height="0.8"/><rect x="29" y="54" width="0.8" height="0.8"/><rect x="29" y="57" width="0.8" height="0.8"/><rect x="29" y="60" width="0.8" height="0.8"/><rect x="29" y="63" width="0.8" height="0.8"/><rect x="32" y="45" width="0.8" height="0.8"/><rect x="32" y="48" width="0.8" height="0.8"/><rect x="32" y="51" width="0.8" height="0.8"/><rect x="32" y="54" width="0.8" height="0.8"/><rect x="32" y="57" width="0.8" height="0.8"/><rect x="32" y="60" width="0.8" height="0.8"/><rect x="32" y="63" width="0.8" height="0.8"/><rect x="35" y="42" width="0.8" height="0.8"/><rect x="35" y="45" width="0.8" height="0.8"/><rect x="35" y="48" width="0.8" height="0.8"/><rect x="35" y="51" width="0.8" height="0.8"/><rect x="35" y="54" width="0.8" height="0.8"/><rect x="35" y="57" width="0.8" height="0.8"/><rect x="35" y="60" width="0.8" height="0.8"/><rect x="35" y="63" width="0.8" height="0.8"/><rect x="38" y="39" width="0.8" height="0.8"/><rect x="38" y="42" width="0.8" height="0.8"/><rect x="38" y="45" width="0.8" height="0.8"/><rect x="38" y="48" width="0.8" height="0.8"/><rect x="38" y="51" width="0.8" height="0.8"/><rect x="38" y="54" width="0.8" height="0.8"/><rect x="38" y="57" width="0.8" height="0.8"/><rect x="38" y="60" width="0.8" height="0.8"/><rect x="38" y="63" width="0.8" height="0.8"/><rect x="41" y="36" width="0.8" height="0.8"/><rect x="41" y="39" width="0.8" height="0.8"/><rect x="41" y="42" width="0.8" height="0.8"/><rect x="41" y="45" width="0.8" height="0.8"/><rect x="41" y="48" width="0.8" height="0.8"/><rect x="41" y="51" width="0.8" height="0.8"/><rect x="41" y="54" width="0.8" height="0.8"/><rect x="41" y="57" width="0.8" height="0.8"/><rect x="41" y="60" width="0.8" height="0.8"/><rect x="41" y="63" width="0.8" height="0.8"/><rect x="44" y="36" width="0.8" height="0.8"/><rect x="44" y="39" width="0.8" height="0.8"/><rect x="44" y="42" width="0.8" height="0.8"/><rect x="44" y="45" width="0.8" height="0.8"/><rect x="44" y="48" width="0.8" height="0.8"/><rect x="44" y="51" width="0.8" height="0.8"/><rect x="44" y="54" width="0.8" height="0.8"/><rect x="44" y="57" width="0.8" height="0.8"/><rect x="44" y="60" width="0.8" height="0.8"/><rect x="44" y="63" width="0.8" height="0.8"/><rect x="47" y="36" width="0.8" height="0.8"/><rect x="47" y="39" width="0.8" height="0.8"/><rect x="47" y="42" width="0.8" height="0.8"/><rect x="47" y="45" width="0.8" height="0.8"/><rect x="47" y="48" width="0.8" height="0.8"/><rect x="47" y="51" width="0.8" height="0.8"/><rect x="47" y="54" width="0.8" height="0.8"/><rect x="47" y="57" width="0.8" height="0.8"/><rect x="47" y="60" width="0.8" height="0.8"/><rect x="47" y="63" width="0.8" height="0.8"/><rect x="50" y="36" width="0.8" height="0.8"/><rect x="50" y="39" width="0.8" height="0.8"/><rect x="50" y="42" width="0.8" height="0.8"/><rect x="50" y="45" width="0.8" height="0.8"/><rect x="50" y="48" width="0.8" height="0.8"/><rect x="50" y="51" width="0.8" height="0.8"/><rect x="50" y="54" width="0.8" height="0.8"/><rect x="50" y="57" width="0.8" height="0.8"/><rect x="50" y="60" width="0.8" height="0.8"/><rect x="50" y="63" width="0.8" height="0.8"/><rect x="53" y="36" width="0.8" height="0.8"/><rect x="53" y="39" width="0.8" height="0.8"/><rect x="53" y="42" width="0.8" height="0.8"/><rect x="53" y="45" width="0.8" height="0.8"/><rect x="53" y="48" width="0.8" height="0.8"/><rect x="53" y="51" width="0.8" height="0.8"/><rect x="53" y="54" width="0.8" height="0.8"/><rect x="53" y="57" width="0.8" height="0.8"/><rect x="53" y="60" width="0.8" height="0.8"/><rect x="53" y="63" width="0.8" height="0.8"/><rect x="56" y="36" width="0.8" height="0.8"/><rect x="56" y="39" width="0.8" height="0.8"/><rect x="56" y="42" width="0.8" height="0.8"/><rect x="56" y="45" width="0.8" height="0.8"/><rect x="56" y="48" width="0.8" height="0.8"/><rect x="56" y="51" width="0.8" height="0.8"/><rect x="56" y="54" width="0.8" height="0.8"/><rect x="56" y="57" width="0.8" height="0.8"/><rect x="56" y="60" width="0.8" height="0.8"/><rect x="56" y="63" width="0.8" height="0.8"/><rect x="59" y="36" width="0.8" height="0.8"/><rect x="59" y="39" width="0.8" height="0.8"/><rect x="59" y="42" width="0.8" height="0.8"/><rect x="59" y="45" width="0.8" height="0.8"/><rect x="59" y="48" width="0.8" height="0.8"/><rect x="59" y="51" width="0.8" height="0.8"/><rect x="59" y="54" width="0.8" height="0.8"/><rect x="59" y="57" width="0.8" height="0.8"/><rect x="59" y="60" width="0.8" height="0.8"/><rect x="59" y="63" width="0.8" height="0.8"/><rect x="62" y="36" width="0.8" height="0.8"/><rect x="62" y="39" width="0.8" height="0.8"/><rect x="62" y="42" width="0.8" height="0.8"/><rect x="62" y="45" width="0.8" height="0.8"/><rect x="62" y="48" width="0.8" height="0.8"/><rect x="62" y="51" width="0.8" height="0.8"/><rect x="62" y="54" width="0.8" height="0.8"/><rect x="62" y="57" width="0.8" height="0.8"/><rect x="62" y="60" width="0.8" height="0.8"/><rect x="62" y="63" width="0.8" height="0.8"/><rect x="65" y="36" width="0.8" height="0.8"/><rect x="65" y="39" width="0.8" height="0.8"/><rect x="65" y="42" width="0.8" height="0.8"/><rect x="65" y="45" width="0.8" height="0.8"/><rect x="65" y="48" width="0.8" height="0.8"/><rect x="65" y="51" width="0.8" height="0.8"/><rect x="65" y="54" width="0.8" height="0.8"/><rect x="65" y="57" width="0.8" height="0.8"/><rect x="65" y="60" width="0.8" height="0.8"/><rect x="65" y="63" width="0.8" height="0.8"/><rect x="68" y="36" width="0.8" height="0.8"/><rect x="68" y="39" width="0.8" height="0.8"/><rect x="68" y="42" width="0.8" height="0.8"/><rect x="68" y="45" width="0.8" height="0.8"/><rect x="68" y="48" width="0.8" height="0.8"/><rect x="68" y="51" width="0.8" height="0.8"/><rect x="68" y="54" width="0.8" height="0.8"/><rect x="68" y="57" width="0.8" height="0.8"/><rect x="68" y="60" width="0.8" height="0.8"/><rect x="68" y="63" width="0.8" height="0.8"/><rect x="71" y="36" width="0.8" height="0.8"/><rect x="71" y="39" width="0.8" height="0.8"/><rect x="71" y="42" width="0.8" height="0.8"/><rect x="71" y="45" width="0.8" height="0.8"/><rect x="71" y="48" width="0.8" height="0.8"/><rect x="71" y="51" width="0.8" height="0.8"/><rect x="71" y="54" width="0.8" height="0.8"/><rect x="71" y="57" width="0.8" height="0.8"/><rect x="71" y="60" width="0.8" height="0.8"/><rect x="71" y="63" width="0.8" height="0.8"/><rect x="74" y="36" width="0.8" height="0.8"/><rect x="74" y="39" width="0.8" height="0.8"/><rect x="74" y="42" width="0.8" height="0.8"/><rect x="74" y="45" width="0.8" height="0.8"/><rect x="74" y="48" width="0.8" height="0.8"/><rect x="74" y="51" width="0.8" height="0.8"/><rect x="74" y="54" width="0.8" height="0.8"/><rect x="74" y="57" width="0.8" height="0.8"/><rect x="74" y="60" width="0.8" height="0.8"/><rect x="74" y="63" width="0.8" height="0.8"/><rect x="77" y="39" width="0.8" height="0.8"/><rect x="77" y="42" width="0.8" height="0.8"/><rect x="77" y="45" width="0.8" height="0.8"/><rect x="77" y="48" width="0.8" height="0.8"/><rect x="77" y="51" width="0.8" height="0.8"/><rect x="77" y="54" width="0.8" height="0.8"/><rect x="77" y="57" width="0.8" height="0.8"/><rect x="77" y="60" width="0.8" height="0.8"/><rect x="77" y="63" width="0.8" height="0.8"/><rect x="80" y="42" width="0.8" height="0.8"/><rect x="80" y="45" width="0.8" height="0.8"/><rect x="80" y="48" width="0.8" height="0.8"/><rect x="80" y="51" width="0.8" height="0.8"/><rect x="80" y="54" width="0.8" height="0.8"/><rect x="80" y="57" width="0.8" height="0.8"/><rect x="80" y="60" width="0.8" height="0.8"/><rect x="80" y="63" width="0.8" height="0.8"/><rect x="83" y="45" width="0.8" height="0.8"/><rect x="83" y="48" width="0.8" height="0.8"/><rect x="83" y="51" width="0.8" height="0.8"/><rect x="83" y="54" width="0.8" height="0.8"/><rect x="83" y="57" width="0.8" height="0.8"/><rect x="83" y="60" width="0.8" height="0.8"/><rect x="83" y="63" width="0.8" height="0.8"/><rect x="86" y="48" width="0.8" height="0.8"/><rect x="86" y="51" width="0.8" height="0.8"/><rect x="86" y="54" width="0.8" height="0.8"/><rect x="86" y="57" width="0.8" height="0.8"/><rect x="86" y="60" width="0.8" height="0.8"/><rect x="86" y="63" width="0.8" height="0.8"/><rect x="89" y="51" width="0.8" height="0.8"/><rect x="89" y="54" width="0.8" height="0.8"/><rect x="89" y="57" width="0.8" height="0.8"/><rect x="89" y="60" width="0.8" height="0.8"/><rect x="89" y="63" width="0.8" height="0.8"/><rect x="92" y="54" width="0.8" height="0.8"/><rect x="92" y="57" width="0.8" height="0.8"/><rect x="92" y="60" width="0.8" height="0.8"/><rect x="92" y="63" width="0.8" height="0.8"/><rect x="95" y="57" width="0.8" height="0.8"/><rect x="95" y="60" width="0.8" height="0.8"/><rect x="95" y="63" width="0.8" height="0.8"/></g>
<g stroke="#ff3030" stroke-width="0.75" opacity="0.55"><line x1="46.0" y1="44.0" x2="46.0" y2="46.0"/><line x1="48.5" y1="44.0" x2="48.5" y2="46.0"/><line x1="51.0" y1="44.0" x2="51.0" y2="46.0"/><line x1="53.5" y1="44.0" x2="53.5" y2="46.0"/><line x1="56.0" y1="44.0" x2="56.0" y2="46.0"/><line x1="58.5" y1="44.0" x2="58.5" y2="46.0"/><line x1="61.0" y1="44.0" x2="61.0" y2="46.0"/><line x1="63.5" y1="44.0" x2="63.5" y2="46.0"/><line x1="66.0" y1="44.0" x2="66.0" y2="46.0"/><line x1="68.5" y1="44.0" x2="68.5" y2="46.0"/><line x1="71.0" y1="44.0" x2="71.0" y2="46.0"/><line x1="43.1" y1="46.9" x2="43.1" y2="48.9"/><line x1="45.6" y1="46.9" x2="45.6" y2="48.9"/><line x1="48.1" y1="46.9" x2="48.1" y2="48.9"/><line x1="50.6" y1="46.9" x2="50.6" y2="48.9"/><line x1="53.1" y1="46.9" x2="53.1" y2="48.9"/><line x1="55.6" y1="46.9" x2="55.6" y2="48.9"/><line x1="58.1" y1="46.9" x2="58.1" y2="48.9"/><line x1="60.6" y1="46.9" x2="60.6" y2="48.9"/><line x1="63.1" y1="46.9" x2="63.1" y2="48.9"/><line x1="65.6" y1="46.9" x2="65.6" y2="48.9"/><line x1="68.1" y1="46.9" x2="68.1" y2="48.9"/><line x1="70.6" y1="46.9" x2="70.6" y2="48.9"/><line x1="73.1" y1="46.9" x2="73.1" y2="48.9"/><line x1="40.2" y1="49.8" x2="40.2" y2="51.8"/><line x1="42.7" y1="49.8" x2="42.7" y2="51.8"/><line x1="45.2" y1="49.8" x2="45.2" y2="51.8"/><line x1="47.7" y1="49.8" x2="47.7" y2="51.8"/><line x1="50.2" y1="49.8" x2="50.2" y2="51.8"/><line x1="52.7" y1="49.8" x2="52.7" y2="51.8"/><line x1="55.2" y1="49.8" x2="55.2" y2="51.8"/><line x1="57.7" y1="49.8" x2="57.7" y2="51.8"/><line x1="60.2" y1="49.8" x2="60.2" y2="51.8"/><line x1="62.7" y1="49.8" x2="62.7" y2="51.8"/><line x1="65.2" y1="49.8" x2="65.2" y2="51.8"/><line x1="67.7" y1="49.8" x2="67.7" y2="51.8"/><line x1="70.2" y1="49.8" x2="70.2" y2="51.8"/><line x1="72.7" y1="49.8" x2="72.7" y2="51.8"/><line x1="75.2" y1="49.8" x2="75.2" y2="51.8"/><line x1="37.3" y1="52.7" x2="37.3" y2="54.7"/><line x1="39.8" y1="52.7" x2="39.8" y2="54.7"/><line x1="42.3" y1="52.7" x2="42.3" y2="54.7"/><line x1="44.8" y1="52.7" x2="44.8" y2="54.7"/><line x1="47.3" y1="52.7" x2="47.3" y2="54.7"/><line x1="49.8" y1="52.7" x2="49.8" y2="54.7"/><line x1="52.3" y1="52.7" x2="52.3" y2="54.7"/><line x1="54.8" y1="52.7" x2="54.8" y2="54.7"/><line x1="57.3" y1="52.7" x2="57.3" y2="54.7"/><line x1="59.8" y1="52.7" x2="59.8" y2="54.7"/><line x1="62.3" y1="52.7" x2="62.3" y2="54.7"/><line x1="64.8" y1="52.7" x2="64.8" y2="54.7"/><line x1="67.3" y1="52.7" x2="67.3" y2="54.7"/><line x1="69.8" y1="52.7" x2="69.8" y2="54.7"/><line x1="72.3" y1="52.7" x2="72.3" y2="54.7"/><line x1="74.8" y1="52.7" x2="74.8" y2="54.7"/><line x1="77.3" y1="52.7" x2="77.3" y2="54.7"/><line x1="79.8" y1="52.7" x2="79.8" y2="54.7"/><line x1="34.4" y1="55.6" x2="34.4" y2="57.6"/><line x1="36.9" y1="55.6" x2="36.9" y2="57.6"/><line x1="39.4" y1="55.6" x2="39.4" y2="57.6"/><line x1="41.9" y1="55.6" x2="41.9" y2="57.6"/><line x1="44.4" y1="55.6" x2="44.4" y2="57.6"/><line x1="46.9" y1="55.6" x2="46.9" y2="57.6"/><line x1="49.4" y1="55.6" x2="49.4" y2="57.6"/><line x1="51.9" y1="55.6" x2="51.9" y2="57.6"/><line x1="54.4" y1="55.6" x2="54.4" y2="57.6"/><line x1="56.9" y1="55.6" x2="56.9" y2="57.6"/><line x1="59.4" y1="55.6" x2="59.4" y2="57.6"/><line x1="61.9" y1="55.6" x2="61.9" y2="57.6"/><line x1="64.4" y1="55.6" x2="64.4" y2="57.6"/><line x1="66.9" y1="55.6" x2="66.9" y2="57.6"/><line x1="69.4" y1="55.6" x2="69.4" y2="57.6"/><line x1="71.9" y1="55.6" x2="71.9" y2="57.6"/><line x1="74.4" y1="55.6" x2="74.4" y2="57.6"/><line x1="76.9" y1="55.6" x2="76.9" y2="57.6"/><line x1="79.4" y1="55.6" x2="79.4" y2="57.6"/><line x1="81.9" y1="55.6" x2="81.9" y2="57.6"/><line x1="31.5" y1="58.5" x2="31.5" y2="60.5"/><line x1="34.0" y1="58.5" x2="34.0" y2="60.5"/><line x1="36.5" y1="58.5" x2="36.5" y2="60.5"/><line x1="39.0" y1="58.5" x2="39.0" y2="60.5"/><line x1="41.5" y1="58.5" x2="41.5" y2="60.5"/><line x1="44.0" y1="58.5" x2="44.0" y2="60.5"/><line x1="46.5" y1="58.5" x2="46.5" y2="60.5"/><line x1="49.0" y1="58.5" x2="49.0" y2="60.5"/><line x1="51.5" y1="58.5" x2="51.5" y2="60.5"/><line x1="54.0" y1="58.5" x2="54.0" y2="60.5"/><line x1="56.5" y1="58.5" x2="56.5" y2="60.5"/><line x1="59.0" y1="58.5" x2="59.0" y2="60.5"/><line x1="61.5" y1="58.5" x2="61.5" y2="60.5"/><line x1="64.0" y1="58.5" x2="64.0" y2="60.5"/><line x1="66.5" y1="58.5" x2="66.5" y2="60.5"/><line x1="69.0" y1="58.5" x2="69.0" y2="60.5"/><line x1="71.5" y1="58.5" x2="71.5" y2="60.5"/><line x1="74.0" y1="58.5" x2="74.0" y2="60.5"/><line x1="76.5" y1="58.5" x2="76.5" y2="60.5"/><line x1="79.0" y1="58.5" x2="79.0" y2="60.5"/><line x1="81.5" y1="58.5" x2="81.5" y2="60.5"/><line x1="84.0" y1="58.5" x2="84.0" y2="60.5"/><line x1="28.6" y1="61.4" x2="28.6" y2="63.4"/><line x1="31.1" y1="61.4" x2="31.1" y2="63.4"/><line x1="33.6" y1="61.4" x2="33.6" y2="63.4"/><line x1="36.1" y1="61.4" x2="36.1" y2="63.4"/><line x1="38.6" y1="61.4" x2="38.6" y2="63.4"/><line x1="41.1" y1="61.4" x2="41.1" y2="63.4"/><line x1="43.6" y1="61.4" x2="43.6" y2="63.4"/><line x1="46.1" y1="61.4" x2="46.1" y2="63.4"/><line x1="48.6" y1="61.4" x2="48.6" y2="63.4"/><line x1="51.1" y1="61.4" x2="51.1" y2="63.4"/><line x1="53.6" y1="61.4" x2="53.6" y2="63.4"/><line x1="56.1" y1="61.4" x2="56.1" y2="63.4"/><line x1="58.6" y1="61.4" x2="58.6" y2="63.4"/><line x1="61.1" y1="61.4" x2="61.1" y2="63.4"/><line x1="63.6" y1="61.4" x2="63.6" y2="63.4"/><line x1="66.1" y1="61.4" x2="66.1" y2="63.4"/><line x1="68.6" y1="61.4" x2="68.6" y2="63.4"/><line x1="71.1" y1="61.4" x2="71.1" y2="63.4"/><line x1="73.6" y1="61.4" x2="73.6" y2="63.4"/><line x1="76.1" y1="61.4" x2="76.1" y2="63.4"/><line x1="78.6" y1="61.4" x2="78.6" y2="63.4"/><line x1="81.1" y1="61.4" x2="81.1" y2="63.4"/><line x1="83.6" y1="61.4" x2="83.6" y2="63.4"/><line x1="86.1" y1="61.4" x2="86.1" y2="63.4"/></g>
<rect x="0" y="67.5" width="117.5" height="51" fill="url(#plateG)"/>
<path d="M35.5,67.5 C40,68 44,71.5 49,75.5 C52.5,78.5 55.5,79.5 58.5,79.5 C61.5,79.5 64.5,78.5 68,75.5 C73,71.5 77,68 81.5,67.5 Z" fill="url(#poolG)"/>
<path d="M35.5,67.5 C40,68 44,71.5 49,75.5 C52.5,78.5 55.5,79.5 58.5,79.5 C61.5,79.5 64.5,78.5 68,75.5 C73,71.5 77,68 81.5,67.5" fill="none" stroke="#03285e" stroke-width="1.3"/>
<path d="M40,68.3 C46,69.5 50,72.5 54.5,76 M77,68.3 C71,69.5 67,72.5 62.5,76" stroke="#0a4fa8" stroke-width="1.3" fill="none"/>
<ellipse cx="58.5" cy="70" rx="9" ry="2.5" fill="#5cc4ff" opacity="0.6" filter="url(#b1)"/>
<ellipse cx="58.5" cy="72" rx="2.4" ry="4.3" fill="#eef8ff"/>
<path d="M58.5,69 L58.5,75.5" stroke="#5a9ae0" stroke-width="0.5" stroke-dasharray="1 1"/>
</g>
<text x="61.4" y="26.2" font-family="'Liberation Serif', serif" font-size="12.5" fill="#fff">27.6 m/s</text>
</g>
<g transform="translate(11.4 394)">
<clipPath id="c11_394"><rect x="0" y="0" width="117.5" height="118.6"/></clipPath>
<g clip-path="url(#c11_394)">
<rect x="0" y="0" width="117.5" height="118.6" fill="#000"/>
<ellipse cx="58.5" cy="65" rx="82.0" ry="15.0" fill="#808080" filter="url(#b6)"/>
<path d="M44.1,30 C37.0,38 32.5,42 27.3,47 C20.4,54 8.1,60 -4.2,68 L121.2,68 C108.9,60 96.6,54 89.7,47 C84.5,42 80.0,38 72.9,30 Z" fill="url(#bellG)" filter="url(#b3)"/>
<ellipse cx="58.5" cy="48.0" rx="21.0" ry="13.0" fill="#fff" filter="url(#b4)"/>
<rect x="47" y="0" width="22.5" height="40" fill="url(#colG)" filter="url(#b2)"/>
<rect x="-40.0" y="63.5" width="197.5" height="4.5" fill="url(#bandG)" filter="url(#b1)"/>
<path d="M36.2,0 L47.6,0 L47.6,32.3 Q47.6,33.9 46,33.9 L44.5,33.9 L36.2,22.4 Z" fill="url(#elG)"/>
<path d="M69.5,0 L81,0 L81,26.8 L73,33.9 L71,33.9 Q69.5,33.9 69.5,32.3 Z" fill="url(#elG)"/>
<g fill="#4a4aff" opacity="0.62"><rect x="10" y="57" width="0.8" height="0.8"/><rect x="10" y="60" width="0.8" height="0.8"/><rect x="10" y="63" width="0.8" height="0.8"/><rect x="13" y="57" width="0.8" height="0.8"/><rect x="13" y="60" width="0.8" height="0.8"/><rect x="13" y="63" width="0.8" height="0.8"/><rect x="16" y="54" width="0.8" height="0.8"/><rect x="16" y="57" width="0.8" height="0.8"/><rect x="16" y="60" width="0.8" height="0.8"/><rect x="16" y="63" width="0.8" height="0.8"/><rect x="19" y="51" width="0.8" height="0.8"/><rect x="19" y="54" width="0.8" height="0.8"/><rect x="19" y="57" width="0.8" height="0.8"/><rect x="19" y="60" width="0.8" height="0.8"/><rect x="19" y="63" width="0.8" height="0.8"/><rect x="22" y="51" width="0.8" height="0.8"/><rect x="22" y="54" width="0.8" height="0.8"/><rect x="22" y="57" width="0.8" height="0.8"/><rect x="22" y="60" width="0.8" height="0.8"/><rect x="22" y="63" width="0.8" height="0.8"/><rect x="25" y="48" width="0.8" height="0.8"/><rect x="25" y="51" width="0.8" height="0.8"/><rect x="25" y="54" width="0.8" height="0.8"/><rect x="25" y="57" width="0.8" height="0.8"/><rect x="25" y="60" width="0.8" height="0.8"/><rect x="25" y="63" width="0.8" height="0.8"/><rect x="28" y="45" width="0.8" height="0.8"/><rect x="28" y="48" width="0.8" height="0.8"/><rect x="28" y="51" width="0.8" height="0.8"/><rect x="28" y="54" width="0.8" height="0.8"/><rect x="28" y="57" width="0.8" height="0.8"/><rect x="28" y="60" width="0.8" height="0.8"/><rect x="28" y="63" width="0.8" height="0.8"/><rect x="31" y="45" width="0.8" height="0.8"/><rect x="31" y="48" width="0.8" height="0.8"/><rect x="31" y="51" width="0.8" height="0.8"/><rect x="31" y="54" width="0.8" height="0.8"/><rect x="31" y="57" width="0.8" height="0.8"/><rect x="31" y="60" width="0.8" height="0.8"/><rect x="31" y="63" width="0.8" height="0.8"/><rect x="34" y="42" width="0.8" height="0.8"/><rect x="34" y="45" width="0.8" height="0.8"/><rect x="34" y="48" width="0.8" height="0.8"/><rect x="34" y="51" width="0.8" height="0.8"/><rect x="34" y="54" width="0.8" height="0.8"/><rect x="34" y="57" width="0.8" height="0.8"/><rect x="34" y="60" width="0.8" height="0.8"/><rect x="34" y="63" width="0.8" height="0.8"/><rect x="37" y="39" width="0.8" height="0.8"/><rect x="37" y="42" width="0.8" height="0.8"/><rect x="37" y="45" width="0.8" height="0.8"/><rect x="37" y="48" width="0.8" height="0.8"/><rect x="37" y="51" width="0.8" height="0.8"/><rect x="37" y="54" width="0.8" height="0.8"/><rect x="37" y="57" width="0.8" height="0.8"/><rect x="37" y="60" width="0.8" height="0.8"/><rect x="37" y="63" width="0.8" height="0.8"/><rect x="40" y="39" width="0.8" height="0.8"/><rect x="40" y="42" width="0.8" height="0.8"/><rect x="40" y="45" width="0.8" height="0.8"/><rect x="40" y="48" width="0.8" height="0.8"/><rect x="40" y="51" width="0.8" height="0.8"/><rect x="40" y="54" width="0.8" height="0.8"/><rect x="40" y="57" width="0.8" height="0.8"/><rect x="40" y="60" width="0.8" height="0.8"/><rect x="40" y="63" width="0.8" height="0.8"/><rect x="43" y="36" width="0.8" height="0.8"/><rect x="43" y="39" width="0.8" height="0.8"/><rect x="43" y="42" width="0.8" height="0.8"/><rect x="43" y="45" width="0.8" height="0.8"/><rect x="43" y="48" width="0.8" height="0.8"/><rect x="43" y="51" width="0.8" height="0.8"/><rect x="43" y="54" width="0.8" height="0.8"/><rect x="43" y="57" width="0.8" height="0.8"/><rect x="43" y="60" width="0.8" height="0.8"/><rect x="43" y="63" width="0.8" height="0.8"/><rect x="46" y="36" width="0.8" height="0.8"/><rect x="46" y="39" width="0.8" height="0.8"/><rect x="46" y="42" width="0.8" height="0.8"/><rect x="46" y="45" width="0.8" height="0.8"/><rect x="46" y="48" width="0.8" height="0.8"/><rect x="46" y="51" width="0.8" height="0.8"/><rect x="46" y="54" width="0.8" height="0.8"/><rect x="46" y="57" width="0.8" height="0.8"/><rect x="46" y="60" width="0.8" height="0.8"/><rect x="46" y="63" width="0.8" height="0.8"/><rect x="49" y="36" width="0.8" height="0.8"/><rect x="49" y="39" width="0.8" height="0.8"/><rect x="49" y="42" width="0.8" height="0.8"/><rect x="49" y="45" width="0.8" height="0.8"/><rect x="49" y="48" width="0.8" height="0.8"/><rect x="49" y="51" width="0.8" height="0.8"/><rect x="49" y="54" width="0.8" height="0.8"/><rect x="49" y="57" width="0.8" height="0.8"/><rect x="49" y="60" width="0.8" height="0.8"/><rect x="49" y="63" width="0.8" height="0.8"/><rect x="52" y="36" width="0.8" height="0.8"/><rect x="52" y="39" width="0.8" height="0.8"/><rect x="52" y="42" width="0.8" height="0.8"/><rect x="52" y="45" width="0.8" height="0.8"/><rect x="52" y="48" width="0.8" height="0.8"/><rect x="52" y="51" width="0.8" height="0.8"/><rect x="52" y="54" width="0.8" height="0.8"/><rect x="52" y="57" width="0.8" height="0.8"/><rect x="52" y="60" width="0.8" height="0.8"/><rect x="52" y="63" width="0.8" height="0.8"/><rect x="55" y="36" width="0.8" height="0.8"/><rect x="55" y="39" width="0.8" height="0.8"/><rect x="55" y="42" width="0.8" height="0.8"/><rect x="55" y="45" width="0.8" height="0.8"/><rect x="55" y="48" width="0.8" height="0.8"/><rect x="55" y="51" width="0.8" height="0.8"/><rect x="55" y="54" width="0.8" height="0.8"/><rect x="55" y="57" width="0.8" height="0.8"/><rect x="55" y="60" width="0.8" height="0.8"/><rect x="55" y="63" width="0.8" height="0.8"/><rect x="58" y="36" width="0.8" height="0.8"/><rect x="58" y="39" width="0.8" height="0.8"/><rect x="58" y="42" width="0.8" height="0.8"/><rect x="58" y="45" width="0.8" height="0.8"/><rect x="58" y="48" width="0.8" height="0.8"/><rect x="58" y="51" width="0.8" height="0.8"/><rect x="58" y="54" width="0.8" height="0.8"/><rect x="58" y="57" width="0.8" height="0.8"/><rect x="58" y="60" width="0.8" height="0.8"/><rect x="58" y="63" width="0.8" height="0.8"/><rect x="61" y="36" width="0.8" height="0.8"/><rect x="61" y="39" width="0.8" height="0.8"/><rect x="61" y="42" width="0.8" height="0.8"/><rect x="61" y="45" width="0.8" height="0.8"/><rect x="61" y="48" width="0.8" height="0.8"/><rect x="61" y="51" width="0.8" height="0.8"/><rect x="61" y="54" width="0.8" height="0.8"/><rect x="61" y="57" width="0.8" height="0.8"/><rect x="61" y="60" width="0.8" height="0.8"/><rect x="61" y="63" width="0.8" height="0.8"/><rect x="64" y="36" width="0.8" height="0.8"/><rect x="64" y="39" width="0.8" height="0.8"/><rect x="64" y="42" width="0.8" height="0.8"/><rect x="64" y="45" width="0.8" height="0.8"/><rect x="64" y="48" width="0.8" height="0.8"/><rect x="64" y="51" width="0.8" height="0.8"/><rect x="64" y="54" width="0.8" height="0.8"/><rect x="64" y="57" width="0.8" height="0.8"/><rect x="64" y="60" width="0.8" height="0.8"/><rect x="64" y="63" width="0.8" height="0.8"/><rect x="67" y="36" width="0.8" height="0.8"/><rect x="67" y="39" width="0.8" height="0.8"/><rect x="67" y="42" width="0.8" height="0.8"/><rect x="67" y="45" width="0.8" height="0.8"/><rect x="67" y="48" width="0.8" height="0.8"/><rect x="67" y="51" width="0.8" height="0.8"/><rect x="67" y="54" width="0.8" height="0.8"/><rect x="67" y="57" width="0.8" height="0.8"/><rect x="67" y="60" width="0.8" height="0.8"/><rect x="67" y="63" width="0.8" height="0.8"/><rect x="70" y="36" width="0.8" height="0.8"/><rect x="70" y="39" width="0.8" height="0.8"/><rect x="70" y="42" width="0.8" height="0.8"/><rect x="70" y="45" width="0.8" height="0.8"/><rect x="70" y="48" width="0.8" height="0.8"/><rect x="70" y="51" width="0.8" height="0.8"/><rect x="70" y="54" width="0.8" height="0.8"/><rect x="70" y="57" width="0.8" height="0.8"/><rect x="70" y="60" width="0.8" height="0.8"/><rect x="70" y="63" width="0.8" height="0.8"/><rect x="73" y="36" width="0.8" height="0.8"/><rect x="73" y="39" width="0.8" height="0.8"/><rect x="73" y="42" width="0.8" height="0.8"/><rect x="73" y="45" width="0.8" height="0.8"/><rect x="73" y="48" width="0.8" height="0.8"/><rect x="73" y="51" width="0.8" height="0.8"/><rect x="73" y="54" width="0.8" height="0.8"/><rect x="73" y="57" width="0.8" height="0.8"/><rect x="73" y="60" width="0.8" height="0.8"/><rect x="73" y="63" width="0.8" height="0.8"/><rect x="76" y="36" width="0.8" height="0.8"/><rect x="76" y="39" width="0.8" height="0.8"/><rect x="76" y="42" width="0.8" height="0.8"/><rect x="76" y="45" width="0.8" height="0.8"/><rect x="76" y="48" width="0.8" height="0.8"/><rect x="76" y="51" width="0.8" height="0.8"/><rect x="76" y="54" width="0.8" height="0.8"/><rect x="76" y="57" width="0.8" height="0.8"/><rect x="76" y="60" width="0.8" height="0.8"/><rect x="76" y="63" width="0.8" height="0.8"/><rect x="79" y="39" width="0.8" height="0.8"/><rect x="79" y="42" width="0.8" height="0.8"/><rect x="79" y="45" width="0.8" height="0.8"/><rect x="79" y="48" width="0.8" height="0.8"/><rect x="79" y="51" width="0.8" height="0.8"/><rect x="79" y="54" width="0.8" height="0.8"/><rect x="79" y="57" width="0.8" height="0.8"/><rect x="79" y="60" width="0.8" height="0.8"/><rect x="79" y="63" width="0.8" height="0.8"/><rect x="82" y="42" width="0.8" height="0.8"/><rect x="82" y="45" width="0.8" height="0.8"/><rect x="82" y="48" width="0.8" height="0.8"/><rect x="82" y="51" width="0.8" height="0.8"/><rect x="82" y="54" width="0.8" height="0.8"/><rect x="82" y="57" width="0.8" height="0.8"/><rect x="82" y="60" width="0.8" height="0.8"/><rect x="82" y="63" width="0.8" height="0.8"/><rect x="85" y="42" width="0.8" height="0.8"/><rect x="85" y="45" width="0.8" height="0.8"/><rect x="85" y="48" width="0.8" height="0.8"/><rect x="85" y="51" width="0.8" height="0.8"/><rect x="85" y="54" width="0.8" height="0.8"/><rect x="85" y="57" width="0.8" height="0.8"/><rect x="85" y="60" width="0.8" height="0.8"/><rect x="85" y="63" width="0.8" height="0.8"/><rect x="88" y="45" width="0.8" height="0.8"/><rect x="88" y="48" width="0.8" height="0.8"/><rect x="88" y="51" width="0.8" height="0.8"/><rect x="88" y="54" width="0.8" height="0.8"/><rect x="88" y="57" width="0.8" height="0.8"/><rect x="88" y="60" width="0.8" height="0.8"/><rect x="88" y="63" width="0.8" height="0.8"/><rect x="91" y="48" width="0.8" height="0.8"/><rect x="91" y="51" width="0.8" height="0.8"/><rect x="91" y="54" width="0.8" height="0.8"/><rect x="91" y="57" width="0.8" height="0.8"/><rect x="91" y="60" width="0.8" height="0.8"/><rect x="91" y="63" width="0.8" height="0.8"/><rect x="94" y="48" width="0.8" height="0.8"/><rect x="94" y="51" width="0.8" height="0.8"/><rect x="94" y="54" width="0.8" height="0.8"/><rect x="94" y="57" width="0.8" height="0.8"/><rect x="94" y="60" width="0.8" height="0.8"/><rect x="94" y="63" width="0.8" height="0.8"/><rect x="97" y="51" width="0.8" height="0.8"/><rect x="97" y="54" width="0.8" height="0.8"/><rect x="97" y="57" width="0.8" height="0.8"/><rect x="97" y="60" width="0.8" height="0.8"/><rect x="97" y="63" width="0.8" height="0.8"/><rect x="100" y="54" width="0.8" height="0.8"/><rect x="100" y="57" width="0.8" height="0.8"/><rect x="100" y="60" width="0.8" height="0.8"/><rect x="100" y="63" width="0.8" height="0.8"/><rect x="103" y="54" width="0.8" height="0.8"/><rect x="103" y="57" width="0.8" height="0.8"/><rect x="103" y="60" width="0.8" height="0.8"/><rect x="103" y="63" width="0.8" height="0.8"/><rect x="106" y="57" width="0.8" height="0.8"/><rect x="106" y="60" width="0.8" height="0.8"/><rect x="106" y="63" width="0.8" height="0.8"/></g>
<g stroke="#e81010" stroke-width="1.30" fill="none" opacity="1.00" stroke-dasharray="3.6 0.5" stroke-linecap="butt"><path d="M53.0,42.0 C53.0,50.0 53.0,63.5 52.5,64.5"/><path d="M50.6,41.1 C51.0,49.1 51.0,62.9 48.9,63.9"/><path d="M48.2,40.2 C49.0,48.2 49.0,62.3 44.0,63.3"/><path d="M45.6,39.2 C47.0,47.2 47.0,61.8 38.9,62.8"/><path d="M43.1,38.3 C45.0,46.3 45.0,61.2 33.9,62.2"/><path d="M40.5,37.4 C43.0,45.4 43.0,60.6 29.4,61.6"/><path d="M37.9,36.5 C41.0,44.5 41.0,60.0 25.5,61.0"/><path d="M64.0,42.0 C64.0,50.0 64.0,63.5 64.5,64.5"/><path d="M66.4,41.1 C66.0,49.1 66.0,62.9 68.1,63.9"/><path d="M68.8,40.2 C68.0,48.2 68.0,62.3 73.0,63.3"/><path d="M71.4,39.2 C70.0,47.2 70.0,61.8 78.1,62.8"/><path d="M73.9,38.3 C72.0,46.3 72.0,61.2 83.1,62.2"/><path d="M76.5,37.4 C74.0,45.4 74.0,60.6 87.6,61.6"/><path d="M79.2,36.5 C76.0,44.5 76.0,60.0 91.5,61.0"/><line x1="55.3" y1="43" x2="55.3" y2="64.5" stroke-width="0.6" opacity="0.55"/><line x1="58.5" y1="43" x2="58.5" y2="64.5" stroke-width="0.6" opacity="0.55"/><line x1="61.7" y1="43" x2="61.7" y2="64.5" stroke-width="0.6" opacity="0.55"/></g>
<rect x="0" y="67.5" width="117.5" height="51" fill="url(#plateG)"/>
<path d="M35.5,67.5 C40,68 44,71.5 49,75.5 C52.5,78.5 55.5,79.5 58.5,79.5 C61.5,79.5 64.5,78.5 68,75.5 C73,71.5 77,68 81.5,67.5 Z" fill="url(#poolG)"/>
<path d="M35.5,67.5 C40,68 44,71.5 49,75.5 C52.5,78.5 55.5,79.5 58.5,79.5 C61.5,79.5 64.5,78.5 68,75.5 C73,71.5 77,68 81.5,67.5" fill="none" stroke="#03285e" stroke-width="1.3"/>
<path d="M40,68.3 C46,69.5 50,72.5 54.5,76 M77,68.3 C71,69.5 67,72.5 62.5,76" stroke="#0a4fa8" stroke-width="1.3" fill="none"/>
<ellipse cx="58.5" cy="70" rx="9" ry="2.5" fill="#5cc4ff" opacity="0.6" filter="url(#b1)"/>
<ellipse cx="58.5" cy="72" rx="2.4" ry="4.3" fill="#eef8ff"/>
<path d="M58.5,69 L58.5,75.5" stroke="#5a9ae0" stroke-width="0.5" stroke-dasharray="1 1"/>
</g>
<text x="64.8" y="22.6" font-family="'Liberation Serif', serif" font-size="12.5" fill="#fff">60.9m/s</text>
</g>
<g transform="translate(147 394)">
<clipPath id="c147_394"><rect x="0" y="0" width="117.5" height="118.6"/></clipPath>
<g clip-path="url(#c147_394)">
<rect x="0" y="0" width="117.5" height="118.6" fill="#000"/>
<ellipse cx="58.5" cy="65" rx="74.0" ry="13.0" fill="#808080" filter="url(#b6)"/>
<path d="M46.0,30 C42.0,38 38.5,42 34.5,47 C24.5,54 13.5,60 2.5,68 L114.5,68 C103.5,60 92.5,54 82.5,47 C78.5,42 75.0,38 71.0,30 Z" fill="url(#bellG)" filter="url(#b3)"/>
<ellipse cx="58.5" cy="46.0" rx="17.0" ry="12.0" fill="#fff" filter="url(#b4)"/>
<rect x="47" y="0" width="22.5" height="40" fill="url(#colG)" filter="url(#b2)"/>
<rect x="-6.0" y="63.5" width="129.5" height="4.5" fill="url(#bandG)" filter="url(#b1)"/>
<path d="M36.2,0 L47.6,0 L47.6,32.3 Q47.6,33.9 46,33.9 L44.5,33.9 L36.2,22.4 Z" fill="url(#elG)"/>
<path d="M69.5,0 L81,0 L81,26.8 L73,33.9 L71,33.9 Q69.5,33.9 69.5,32.3 Z" fill="url(#elG)"/>
<g fill="#4a4aff" opacity="0.22"><rect x="22" y="57" width="0.8" height="0.8"/><rect x="22" y="60" width="0.8" height="0.8"/><rect x="22" y="63" width="0.8" height="0.8"/><rect x="25" y="54" width="0.8" height="0.8"/><rect x="25" y="57" width="0.8" height="0.8"/><rect x="25" y="60" width="0.8" height="0.8"/><rect x="25" y="63" width="0.8" height="0.8"/><rect x="28" y="51" width="0.8" height="0.8"/><rect x="28" y="54" width="0.8" height="0.8"/><rect x="28" y="57" width="0.8" height="0.8"/><rect x="28" y="60" width="0.8" height="0.8"/><rect x="28" y="63" width="0.8" height="0.8"/><rect x="31" y="48" width="0.8" height="0.8"/><rect x="31" y="51" width="0.8" height="0.8"/><rect x="31" y="54" width="0.8" height="0.8"/><rect x="31" y="57" width="0.8" height="0.8"/><rect x="31" y="60" width="0.8" height="0.8"/><rect x="31" y="63" width="0.8" height="0.8"/><rect x="34" y="45" width="0.8" height="0.8"/><rect x="34" y="48" width="0.8" height="0.8"/><rect x="34" y="51" width="0.8" height="0.8"/><rect x="34" y="54" width="0.8" height="0.8"/><rect x="34" y="57" width="0.8" height="0.8"/><rect x="34" y="60" width="0.8" height="0.8"/><rect x="34" y="63" width="0.8" height="0.8"/><rect x="37" y="42" width="0.8" height="0.8"/><rect x="37" y="45" width="0.8" height="0.8"/><rect x="37" y="48" width="0.8" height="0.8"/><rect x="37" y="51" width="0.8" height="0.8"/><rect x="37" y="54" width="0.8" height="0.8"/><rect x="37" y="57" width="0.8" height="0.8"/><rect x="37" y="60" width="0.8" height="0.8"/><rect x="37" y="63" width="0.8" height="0.8"/><rect x="40" y="39" width="0.8" height="0.8"/><rect x="40" y="42" width="0.8" height="0.8"/><rect x="40" y="45" width="0.8" height="0.8"/><rect x="40" y="48" width="0.8" height="0.8"/><rect x="40" y="51" width="0.8" height="0.8"/><rect x="40" y="54" width="0.8" height="0.8"/><rect x="40" y="57" width="0.8" height="0.8"/><rect x="40" y="60" width="0.8" height="0.8"/><rect x="40" y="63" width="0.8" height="0.8"/><rect x="43" y="36" width="0.8" height="0.8"/><rect x="43" y="39" width="0.8" height="0.8"/><rect x="43" y="42" width="0.8" height="0.8"/><rect x="43" y="45" width="0.8" height="0.8"/><rect x="43" y="48" width="0.8" height="0.8"/><rect x="43" y="51" width="0.8" height="0.8"/><rect x="43" y="54" width="0.8" height="0.8"/><rect x="43" y="57" width="0.8" height="0.8"/><rect x="43" y="60" width="0.8" height="0.8"/><rect x="43" y="63" width="0.8" height="0.8"/><rect x="46" y="36" width="0.8" height="0.8"/><rect x="46" y="39" width="0.8" height="0.8"/><rect x="46" y="42" width="0.8" height="0.8"/><rect x="46" y="45" width="0.8" height="0.8"/><rect x="46" y="48" width="0.8" height="0.8"/><rect x="46" y="51" width="0.8" height="0.8"/><rect x="46" y="54" width="0.8" height="0.8"/><rect x="46" y="57" width="0.8" height="0.8"/><rect x="46" y="60" width="0.8" height="0.8"/><rect x="46" y="63" width="0.8" height="0.8"/><rect x="49" y="36" width="0.8" height="0.8"/><rect x="49" y="39" width="0.8" height="0.8"/><rect x="49" y="42" width="0.8" height="0.8"/><rect x="49" y="45" width="0.8" height="0.8"/><rect x="49" y="48" width="0.8" height="0.8"/><rect x="49" y="51" width="0.8" height="0.8"/><rect x="49" y="54" width="0.8" height="0.8"/><rect x="49" y="57" width="0.8" height="0.8"/><rect x="49" y="60" width="0.8" height="0.8"/><rect x="49" y="63" width="0.8" height="0.8"/><rect x="52" y="36" width="0.8" height="0.8"/><rect x="52" y="39" width="0.8" height="0.8"/><rect x="52" y="42" width="0.8" height="0.8"/><rect x="52" y="45" width="0.8" height="0.8"/><rect x="52" y="48" width="0.8" height="0.8"/><rect x="52" y="51" width="0.8" height="0.8"/><rect x="52" y="54" width="0.8" height="0.8"/><rect x="52" y="57" width="0.8" height="0.8"/><rect x="52" y="60" width="0.8" height="0.8"/><rect x="52" y="63" width="0.8" height="0.8"/><rect x="55" y="36" width="0.8" height="0.8"/><rect x="55" y="39" width="0.8" height="0.8"/><rect x="55" y="42" width="0.8" height="0.8"/><rect x="55" y="45" width="0.8" height="0.8"/><rect x="55" y="48" width="0.8" height="0.8"/><rect x="55" y="51" width="0.8" height="0.8"/><rect x="55" y="54" width="0.8" height="0.8"/><rect x="55" y="57" width="0.8" height="0.8"/><rect x="55" y="60" width="0.8" height="0.8"/><rect x="55" y="63" width="0.8" height="0.8"/><rect x="58" y="36" width="0.8" height="0.8"/><rect x="58" y="39" width="0.8" height="0.8"/><rect x="58" y="42" width="0.8" height="0.8"/><rect x="58" y="45" width="0.8" height="0.8"/><rect x="58" y="48" width="0.8" height="0.8"/><rect x="58" y="51" width="0.8" height="0.8"/><rect x="58" y="54" width="0.8" height="0.8"/><rect x="58" y="57" width="0.8" height="0.8"/><rect x="58" y="60" width="0.8" height="0.8"/><rect x="58" y="63" width="0.8" height="0.8"/><rect x="61" y="36" width="0.8" height="0.8"/><rect x="61" y="39" width="0.8" height="0.8"/><rect x="61" y="42" width="0.8" height="0.8"/><rect x="61" y="45" width="0.8" height="0.8"/><rect x="61" y="48" width="0.8" height="0.8"/><rect x="61" y="51" width="0.8" height="0.8"/><rect x="61" y="54" width="0.8" height="0.8"/><rect x="61" y="57" width="0.8" height="0.8"/><rect x="61" y="60" width="0.8" height="0.8"/><rect x="61" y="63" width="0.8" height="0.8"/><rect x="64" y="36" width="0.8" height="0.8"/><rect x="64" y="39" width="0.8" height="0.8"/><rect x="64" y="42" width="0.8" height="0.8"/><rect x="64" y="45" width="0.8" height="0.8"/><rect x="64" y="48" width="0.8" height="0.8"/><rect x="64" y="51" width="0.8" height="0.8"/><rect x="64" y="54" width="0.8" height="0.8"/><rect x="64" y="57" width="0.8" height="0.8"/><rect x="64" y="60" width="0.8" height="0.8"/><rect x="64" y="63" width="0.8" height="0.8"/><rect x="67" y="36" width="0.8" height="0.8"/><rect x="67" y="39" width="0.8" height="0.8"/><rect x="67" y="42" width="0.8" height="0.8"/><rect x="67" y="45" width="0.8" height="0.8"/><rect x="67" y="48" width="0.8" height="0.8"/><rect x="67" y="51" width="0.8" height="0.8"/><rect x="67" y="54" width="0.8" height="0.8"/><rect x="67" y="57" width="0.8" height="0.8"/><rect x="67" y="60" width="0.8" height="0.8"/><rect x="67" y="63" width="0.8" height="0.8"/><rect x="70" y="36" width="0.8" height="0.8"/><rect x="70" y="39" width="0.8" height="0.8"/><rect x="70" y="42" width="0.8" height="0.8"/><rect x="70" y="45" width="0.8" height="0.8"/><rect x="70" y="48" width="0.8" height="0.8"/><rect x="70" y="51" width="0.8" height="0.8"/><rect x="70" y="54" width="0.8" height="0.8"/><rect x="70" y="57" width="0.8" height="0.8"/><rect x="70" y="60" width="0.8" height="0.8"/><rect x="70" y="63" width="0.8" height="0.8"/><rect x="73" y="36" width="0.8" height="0.8"/><rect x="73" y="39" width="0.8" height="0.8"/><rect x="73" y="42" width="0.8" height="0.8"/><rect x="73" y="45" width="0.8" height="0.8"/><rect x="73" y="48" width="0.8" height="0.8"/><rect x="73" y="51" width="0.8" height="0.8"/><rect x="73" y="54" width="0.8" height="0.8"/><rect x="73" y="57" width="0.8" height="0.8"/><rect x="73" y="60" width="0.8" height="0.8"/><rect x="73" y="63" width="0.8" height="0.8"/><rect x="76" y="36" width="0.8" height="0.8"/><rect x="76" y="39" width="0.8" height="0.8"/><rect x="76" y="42" width="0.8" height="0.8"/><rect x="76" y="45" width="0.8" height="0.8"/><rect x="76" y="48" width="0.8" height="0.8"/><rect x="76" y="51" width="0.8" height="0.8"/><rect x="76" y="54" width="0.8" height="0.8"/><rect x="76" y="57" width="0.8" height="0.8"/><rect x="76" y="60" width="0.8" height="0.8"/><rect x="76" y="63" width="0.8" height="0.8"/><rect x="79" y="39" width="0.8" height="0.8"/><rect x="79" y="42" width="0.8" height="0.8"/><rect x="79" y="45" width="0.8" height="0.8"/><rect x="79" y="48" width="0.8" height="0.8"/><rect x="79" y="51" width="0.8" height="0.8"/><rect x="79" y="54" width="0.8" height="0.8"/><rect x="79" y="57" width="0.8" height="0.8"/><rect x="79" y="60" width="0.8" height="0.8"/><rect x="79" y="63" width="0.8" height="0.8"/><rect x="82" y="45" width="0.8" height="0.8"/><rect x="82" y="48" width="0.8" height="0.8"/><rect x="82" y="51" width="0.8" height="0.8"/><rect x="82" y="54" width="0.8" height="0.8"/><rect x="82" y="57" width="0.8" height="0.8"/><rect x="82" y="60" width="0.8" height="0.8"/><rect x="82" y="63" width="0.8" height="0.8"/><rect x="85" y="48" width="0.8" height="0.8"/><rect x="85" y="51" width="0.8" height="0.8"/><rect x="85" y="54" width="0.8" height="0.8"/><rect x="85" y="57" width="0.8" height="0.8"/><rect x="85" y="60" width="0.8" height="0.8"/><rect x="85" y="63" width="0.8" height="0.8"/><rect x="88" y="51" width="0.8" height="0.8"/><rect x="88" y="54" width="0.8" height="0.8"/><rect x="88" y="57" width="0.8" height="0.8"/><rect x="88" y="60" width="0.8" height="0.8"/><rect x="88" y="63" width="0.8" height="0.8"/><rect x="91" y="54" width="0.8" height="0.8"/><rect x="91" y="57" width="0.8" height="0.8"/><rect x="91" y="60" width="0.8" height="0.8"/><rect x="91" y="63" width="0.8" height="0.8"/><rect x="94" y="57" width="0.8" height="0.8"/><rect x="94" y="60" width="0.8" height="0.8"/><rect x="94" y="63" width="0.8" height="0.8"/></g>
<g stroke="#ff3030" stroke-width="0.75" opacity="0.55"><line x1="46.0" y1="44.0" x2="46.0" y2="46.0"/><line x1="48.5" y1="44.0" x2="48.5" y2="46.0"/><line x1="51.0" y1="44.0" x2="51.0" y2="46.0"/><line x1="53.5" y1="44.0" x2="53.5" y2="46.0"/><line x1="56.0" y1="44.0" x2="56.0" y2="46.0"/><line x1="58.5" y1="44.0" x2="58.5" y2="46.0"/><line x1="61.0" y1="44.0" x2="61.0" y2="46.0"/><line x1="63.5" y1="44.0" x2="63.5" y2="46.0"/><line x1="66.0" y1="44.0" x2="66.0" y2="46.0"/><line x1="68.5" y1="44.0" x2="68.5" y2="46.0"/><line x1="71.0" y1="44.0" x2="71.0" y2="46.0"/><line x1="44.1" y1="46.9" x2="44.1" y2="48.9"/><line x1="46.6" y1="46.9" x2="46.6" y2="48.9"/><line x1="49.1" y1="46.9" x2="49.1" y2="48.9"/><line x1="51.6" y1="46.9" x2="51.6" y2="48.9"/><line x1="54.1" y1="46.9" x2="54.1" y2="48.9"/><line x1="56.6" y1="46.9" x2="56.6" y2="48.9"/><line x1="59.1" y1="46.9" x2="59.1" y2="48.9"/><line x1="61.6" y1="46.9" x2="61.6" y2="48.9"/><line x1="64.1" y1="46.9" x2="64.1" y2="48.9"/><line x1="66.6" y1="46.9" x2="66.6" y2="48.9"/><line x1="69.1" y1="46.9" x2="69.1" y2="48.9"/><line x1="71.6" y1="46.9" x2="71.6" y2="48.9"/><line x1="42.2" y1="49.8" x2="42.2" y2="51.8"/><line x1="44.7" y1="49.8" x2="44.7" y2="51.8"/><line x1="47.2" y1="49.8" x2="47.2" y2="51.8"/><line x1="49.7" y1="49.8" x2="49.7" y2="51.8"/><line x1="52.2" y1="49.8" x2="52.2" y2="51.8"/><line x1="54.7" y1="49.8" x2="54.7" y2="51.8"/><line x1="57.2" y1="49.8" x2="57.2" y2="51.8"/><line x1="59.7" y1="49.8" x2="59.7" y2="51.8"/><line x1="62.2" y1="49.8" x2="62.2" y2="51.8"/><line x1="64.7" y1="49.8" x2="64.7" y2="51.8"/><line x1="67.2" y1="49.8" x2="67.2" y2="51.8"/><line x1="69.7" y1="49.8" x2="69.7" y2="51.8"/><line x1="72.2" y1="49.8" x2="72.2" y2="51.8"/><line x1="74.7" y1="49.8" x2="74.7" y2="51.8"/><line x1="40.3" y1="52.7" x2="40.3" y2="54.7"/><line x1="42.8" y1="52.7" x2="42.8" y2="54.7"/><line x1="45.3" y1="52.7" x2="45.3" y2="54.7"/><line x1="47.8" y1="52.7" x2="47.8" y2="54.7"/><line x1="50.3" y1="52.7" x2="50.3" y2="54.7"/><line x1="52.8" y1="52.7" x2="52.8" y2="54.7"/><line x1="55.3" y1="52.7" x2="55.3" y2="54.7"/><line x1="57.8" y1="52.7" x2="57.8" y2="54.7"/><line x1="60.3" y1="52.7" x2="60.3" y2="54.7"/><line x1="62.8" y1="52.7" x2="62.8" y2="54.7"/><line x1="65.3" y1="52.7" x2="65.3" y2="54.7"/><line x1="67.8" y1="52.7" x2="67.8" y2="54.7"/><line x1="70.3" y1="52.7" x2="70.3" y2="54.7"/><line x1="72.8" y1="52.7" x2="72.8" y2="54.7"/><line x1="75.3" y1="52.7" x2="75.3" y2="54.7"/><line x1="38.4" y1="55.6" x2="38.4" y2="57.6"/><line x1="40.9" y1="55.6" x2="40.9" y2="57.6"/><line x1="43.4" y1="55.6" x2="43.4" y2="57.6"/><line x1="45.9" y1="55.6" x2="45.9" y2="57.6"/><line x1="48.4" y1="55.6" x2="48.4" y2="57.6"/><line x1="50.9" y1="55.6" x2="50.9" y2="57.6"/><line x1="53.4" y1="55.6" x2="53.4" y2="57.6"/><line x1="55.9" y1="55.6" x2="55.9" y2="57.6"/><line x1="58.4" y1="55.6" x2="58.4" y2="57.6"/><line x1="60.9" y1="55.6" x2="60.9" y2="57.6"/><line x1="63.4" y1="55.6" x2="63.4" y2="57.6"/><line x1="65.9" y1="55.6" x2="65.9" y2="57.6"/><line x1="68.4" y1="55.6" x2="68.4" y2="57.6"/><line x1="70.9" y1="55.6" x2="70.9" y2="57.6"/><line x1="73.4" y1="55.6" x2="73.4" y2="57.6"/><line x1="75.9" y1="55.6" x2="75.9" y2="57.6"/><line x1="78.4" y1="55.6" x2="78.4" y2="57.6"/><line x1="36.5" y1="58.5" x2="36.5" y2="60.5"/><line x1="39.0" y1="58.5" x2="39.0" y2="60.5"/><line x1="41.5" y1="58.5" x2="41.5" y2="60.5"/><line x1="44.0" y1="58.5" x2="44.0" y2="60.5"/><line x1="46.5" y1="58.5" x2="46.5" y2="60.5"/><line x1="49.0" y1="58.5" x2="49.0" y2="60.5"/><line x1="51.5" y1="58.5" x2="51.5" y2="60.5"/><line x1="54.0" y1="58.5" x2="54.0" y2="60.5"/><line x1="56.5" y1="58.5" x2="56.5" y2="60.5"/><line x1="59.0" y1="58.5" x2="59.0" y2="60.5"/><line x1="61.5" y1="58.5" x2="61.5" y2="60.5"/><line x1="64.0" y1="58.5" x2="64.0" y2="60.5"/><line x1="66.5" y1="58.5" x2="66.5" y2="60.5"/><line x1="69.0" y1="58.5" x2="69.0" y2="60.5"/><line x1="71.5" y1="58.5" x2="71.5" y2="60.5"/><line x1="74.0" y1="58.5" x2="74.0" y2="60.5"/><line x1="76.5" y1="58.5" x2="76.5" y2="60.5"/><line x1="79.0" y1="58.5" x2="79.0" y2="60.5"/><line x1="34.6" y1="61.4" x2="34.6" y2="63.4"/><line x1="37.1" y1="61.4" x2="37.1" y2="63.4"/><line x1="39.6" y1="61.4" x2="39.6" y2="63.4"/><line x1="42.1" y1="61.4" x2="42.1" y2="63.4"/><line x1="44.6" y1="61.4" x2="44.6" y2="63.4"/><line x1="47.1" y1="61.4" x2="47.1" y2="63.4"/><line x1="49.6" y1="61.4" x2="49.6" y2="63.4"/><line x1="52.1" y1="61.4" x2="52.1" y2="63.4"/><line x1="54.6" y1="61.4" x2="54.6" y2="63.4"/><line x1="57.1" y1="61.4" x2="57.1" y2="63.4"/><line x1="59.6" y1="61.4" x2="59.6" y2="63.4"/><line x1="62.1" y1="61.4" x2="62.1" y2="63.4"/><line x1="64.6" y1="61.4" x2="64.6" y2="63.4"/><line x1="67.1" y1="61.4" x2="67.1" y2="63.4"/><line x1="69.6" y1="61.4" x2="69.6" y2="63.4"/><line x1="72.1" y1="61.4" x2="72.1" y2="63.4"/><line x1="74.6" y1="61.4" x2="74.6" y2="63.4"/><line x1="77.1" y1="61.4" x2="77.1" y2="63.4"/><line x1="79.6" y1="61.4" x2="79.6" y2="63.4"/><line x1="82.1" y1="61.4" x2="82.1" y2="63.4"/></g>
<rect x="0" y="67.5" width="117.5" height="51" fill="url(#plateG)"/>
<path d="M35.5,67.5 C40,68 44,71.5 49,75.5 C52.5,78.5 55.5,79.5 58.5,79.5 C61.5,79.5 64.5,78.5 68,75.5 C73,71.5 77,68 81.5,67.5 Z" fill="url(#poolG)"/>
<path d="M35.5,67.5 C40,68 44,71.5 49,75.5 C52.5,78.5 55.5,79.5 58.5,79.5 C61.5,79.5 64.5,78.5 68,75.5 C73,71.5 77,68 81.5,67.5" fill="none" stroke="#03285e" stroke-width="1.3"/>
<path d="M40,68.3 C46,69.5 50,72.5 54.5,76 M77,68.3 C71,69.5 67,72.5 62.5,76" stroke="#0a4fa8" stroke-width="1.3" fill="none"/>
<ellipse cx="58.5" cy="70" rx="9" ry="2.5" fill="#5cc4ff" opacity="0.6" filter="url(#b1)"/>
<ellipse cx="58.5" cy="72" rx="2.4" ry="4.3" fill="#eef8ff"/>
<path d="M58.5,69 L58.5,75.5" stroke="#5a9ae0" stroke-width="0.5" stroke-dasharray="1 1"/>
</g>
<text x="62.9" y="22.7" font-family="'Liberation Serif', serif" font-size="12.5" fill="#fff">22.8 m/s</text>
</g>
<text x="53.6" y="246.5" font-family="'Liberation Serif', serif" font-size="12.5" fill="#000" text-anchor="start" font-weight="normal" >I=200A</text>
<text x="181.3" y="246" font-family="'Liberation Serif', serif" font-size="12.5" fill="#000" text-anchor="start" font-weight="normal" >I=360A</text>
<text x="49" y="386.5" font-family="'Liberation Serif', serif" font-size="12.5" fill="#000" text-anchor="start" font-weight="normal" >I=300A</text>
<text x="183.6" y="386.5" font-family="'Liberation Serif', serif" font-size="12.5" fill="#000" text-anchor="start" font-weight="normal" >I=260A</text>
<text x="48.9" y="530.4" font-family="'Liberation Serif', serif" font-size="12.5" fill="#000" text-anchor="start" font-weight="normal" >I=400A</text>
<text x="181.2" y="530.4" font-family="'Liberation Serif', serif" font-size="12.5" fill="#000" text-anchor="start" font-weight="normal" >I=200A</text>
<rect x="287.5" y="6.5" width="255.5" height="86.3" fill="none" stroke="#666" stroke-width="1" stroke-dasharray="1.2 1.2"/>
<clipPath id="insclip"><rect x="297.2" y="25.6" width="62.5" height="53.6"/></clipPath>
<g clip-path="url(#insclip)">
<rect x="297.2" y="25.6" width="62.5" height="53.6" fill="#b4b4b4"/>
<rect x="297.2" y="25.6" width="25.4" height="31" fill="#a9a9a9"/>
<rect x="315.2" y="25.6" width="7.6" height="31" fill="#b6b6b6"/>
<rect x="322.6" y="25.6" width="12.4" height="17" fill="url(#colIns)"/>
<path d="M297.2,55.9 L331.5,63 L349,74.8 L353,79.2 L297.2,79.2 Z" fill="#d4d4d4"/>
<path d="M297.2,55.9 L331.5,63 L349,74.8" fill="none" stroke="#e6e6e6" stroke-width="1"/>
<path d="M307.2,53 L313.7,47.6 L320.8,43.5 L324.4,40.5 L330.3,40 L332,43.5 L337.4,45.9 L345.6,47.6 L350.4,53.5 L349.2,59.5 L343.3,63.6 L338.6,64.8 L332.6,66.6 L327.9,66 L323.2,61.8 L317.3,58.3 L311.4,55.9 Z" fill="#050008" stroke="#050008" stroke-width="1.2" stroke-linejoin="round"/>
<path d="M312,52.5 L317,49 L321.5,45.5 L324.5,42.2 L329,42 L331,45.5 L333,51 L335.5,58.5 L336.5,63.5 L331.5,64.3 L326.5,62.5 L321.5,59.5 L316.5,56 Z" fill="url(#hotG)" filter="url(#b1)"/>
<circle cx="328.2" cy="48.2" r="1.5" fill="#e0101a"/>
<circle cx="327.7" cy="62.4" r="1.5" fill="#111"/>
<line x1="332.6" y1="45.9" x2="344.5" y2="35.2" stroke="#e03020" stroke-width="0.9"/>
</g>
<text x="332.3" y="33.5" font-family="'Liberation Serif', serif" font-size="8.1" fill="#000" text-anchor="start" font-weight="bold" >Point A</text>
<text x="332.3" y="79" font-family="'Liberation Serif', serif" font-size="8.1" fill="#000" text-anchor="start" font-weight="bold" >Point B</text>
<text x="385.1" y="21" font-family="'Liberation Serif', serif" font-size="12.7" fill="#000" text-anchor="start" font-weight="normal" >DC Square Pulsed Current</text>
<text x="445.5" y="28.6" font-family="'Liberation Serif', serif" font-size="6" fill="#333" text-anchor="start" font-weight="normal" >I(A)</text>
<g fill="#555" font-family="'Liberation Serif', serif" font-size="7">
<text x="378" y="38.5" text-anchor="end">400</text>
<text x="378" y="56.3" text-anchor="end">300</text>
<text x="378" y="71.6" text-anchor="end">200</text>
<text x="381.5" y="81" text-anchor="middle">0</text>
<text x="409.5" y="81" text-anchor="middle">0.002</text>
<text x="440.4" y="81" text-anchor="middle">0.004</text>
<text x="466.8" y="81" text-anchor="middle">0.006</text>
<text x="495.1" y="81" text-anchor="middle">0.008</text>
<text x="517.2" y="81" text-anchor="middle">0.01</text>
</g>
<polyline points="380.50,72.50 383.00,72.50 385.00,34.10 391.10,34.10 393.10,72.50 398.55,72.50 400.55,34.10 406.65,34.10 408.65,72.50 414.10,72.50 416.10,34.10 422.20,34.10 424.20,72.50 429.65,72.50 431.65,34.10 437.75,34.10 439.75,72.50 445.20,72.50 447.20,34.10 453.30,34.10 455.30,72.50 460.75,72.50 462.75,34.10 468.85,34.10 470.85,72.50 476.30,72.50 478.30,34.10 484.40,34.10 486.40,72.50 491.85,72.50 493.85,34.10 499.95,34.10 501.95,72.50 507.40,72.50 509.40,34.10 515.50,34.10 517.50,72.50 524.00,72.50" stroke="#111" stroke-width="1.3" fill="none" stroke-linejoin="round" stroke-linecap="round" />
<line x1="380" y1="31.4" x2="380" y2="73.4" stroke="#111" stroke-width="1.6"/>
<line x1="379.5" y1="73.3" x2="524.5" y2="73.3" stroke="#111" stroke-width="1.6"/>
<line x1="380" y1="53.7" x2="524" y2="53.7" stroke="#222" stroke-width="1.9" stroke-dasharray="3.6 1.9"/>
<rect x="287.5" y="103" width="255.5" height="435.5" fill="none" stroke="#666" stroke-width="1" stroke-dasharray="1.2 1.2"/>
<rect x="378" y="118.6" width="148.5" height="125.2" fill="none" stroke="#999" stroke-width="1"/>
<line x1="378" y1="243.8" x2="526.5" y2="243.8" stroke="#aaa" stroke-width="1.8"/>
<rect x="378.5" y="260.5" width="148" height="126" fill="none" stroke="#999" stroke-width="1"/>
<rect x="379.3" y="395.1" width="147" height="126.2" fill="none" stroke="#999" stroke-width="1"/>
<line x1="395.6" y1="30.5" x2="395.6" y2="516" stroke="#111" stroke-width="1.3" stroke-dasharray="1.2 1.3"/>
<line x1="411.1" y1="30.5" x2="411.1" y2="516" stroke="#111" stroke-width="1.3" stroke-dasharray="1.2 1.3"/>
<line x1="427.2" y1="30.5" x2="427.2" y2="516" stroke="#111" stroke-width="1.3" stroke-dasharray="1.2 1.3"/>
<line x1="443.0" y1="30.5" x2="443.0" y2="516" stroke="#111" stroke-width="1.3" stroke-dasharray="1.2 1.3"/>
<line x1="458.1" y1="30.5" x2="458.1" y2="516" stroke="#111" stroke-width="1.3" stroke-dasharray="1.2 1.3"/>
<line x1="474.2" y1="30.5" x2="474.2" y2="516" stroke="#111" stroke-width="1.3" stroke-dasharray="1.2 1.3"/>
<line x1="488.8" y1="30.5" x2="488.8" y2="516" stroke="#111" stroke-width="1.3" stroke-dasharray="1.2 1.3"/>
<line x1="504.2" y1="30.5" x2="504.2" y2="516" stroke="#111" stroke-width="1.3" stroke-dasharray="1.2 1.3"/>
<line x1="524.0" y1="30.5" x2="524.0" y2="516" stroke="#111" stroke-width="1.3" stroke-dasharray="1.2 1.3"/>
<text x="384.3" y="114.6" font-family="'Liberation Serif', serif" font-size="11.3">C<tspan font-size="7" dy="2.2">1</tspan></text>
<text x="399.0" y="114.6" font-family="'Liberation Serif', serif" font-size="11.3">C<tspan font-size="7" dy="2.2">2</tspan></text>
<text x="414.6" y="114.6" font-family="'Liberation Serif', serif" font-size="11.3">C<tspan font-size="7" dy="2.2">3</tspan></text>
<text x="429.0" y="114.6" font-family="'Liberation Serif', serif" font-size="11.3">C<tspan font-size="7" dy="2.2">4</tspan></text>
<text x="444.6" y="114.6" font-family="'Liberation Serif', serif" font-size="11.3">C<tspan font-size="7" dy="2.2">5</tspan></text>
<text x="461.2" y="114.6" font-family="'Liberation Serif', serif" font-size="11.3">C<tspan font-size="7" dy="2.2">6</tspan></text>
<text x="475.0" y="114.6" font-family="'Liberation Serif', serif" font-size="11.3">C<tspan font-size="7" dy="2.2">7</tspan></text>
<text x="492.3" y="114.6" font-family="'Liberation Serif', serif" font-size="11.3">C<tspan font-size="7" dy="2.2">8</tspan></text>
<text x="509.6" y="114.6" font-family="'Liberation Serif', serif" font-size="11.3">C<tspan font-size="7" dy="2.2">9</tspan></text>
<text transform="translate(315.6 250.8) scale(1.08 1) rotate(-90)" font-family="'Liberation Serif', serif" font-size="13.85">Magnetic flux density/(T)</text>
<text transform="translate(313.9 408.8) scale(1.08 1) rotate(-90)" font-family="'Liberation Serif', serif" font-size="13.5">Temperature/(K)in log scale</text>
<text transform="translate(314.8 503.9) scale(1.08 1) rotate(-90)" font-family="'Liberation Serif', serif" font-size="13.7">Velocity/(m/s)</text>
<text x="286.5" y="116.8" font-family="'Liberation Sans', sans-serif" font-size="13.4" fill="#000" text-anchor="start" font-weight="normal" >(b)</text>
<text x="286.5" y="267" font-family="'Liberation Sans', sans-serif" font-size="13.4" fill="#000" text-anchor="start" font-weight="normal" >(c)</text>
<text x="286.5" y="429.7" font-family="'Liberation Sans', sans-serif" font-size="13.4" fill="#000" text-anchor="start" font-weight="normal" >(d)</text>
<text x="338.3" y="122.7" font-family="'Liberation Serif', serif" font-size="22">×</text>
<text x="352.6" y="119.9" font-family="'Liberation Serif', serif" font-size="13.5">10</text>
<text x="366" y="115.5" font-family="'Liberation Serif', serif" font-size="9.5">-7</text>
<text x="354.8" y="150.2" font-family="'Liberation Serif', serif" font-size="14.3" fill="#000" text-anchor="end" font-weight="normal" >50</text>
<text x="354.8" y="187.2" font-family="'Liberation Serif', serif" font-size="14.3" fill="#000" text-anchor="end" font-weight="normal" >30</text>
<text x="354.8" y="223.2" font-family="'Liberation Serif', serif" font-size="14.3" fill="#000" text-anchor="end" font-weight="normal" >10</text>
<text x="350.6" y="239.4" font-family="'Liberation Serif', serif" font-size="14.3" fill="#000" text-anchor="end" font-weight="normal" >5</text>
<text x="364.3" y="265.2" font-family="'Liberation Serif', serif" font-size="14.3" fill="#000" text-anchor="end" font-weight="normal" >20<tspan dx="-1.1">,</tspan><tspan dx="-1.1">000</tspan></text>
<text x="364.3" y="298.2" font-family="'Liberation Serif', serif" font-size="14.3" fill="#000" text-anchor="end" font-weight="normal" >15<tspan dx="-1.1">,</tspan><tspan dx="-1.1">000</tspan></text>
<text x="364.3" y="331.3" font-family="'Liberation Serif', serif" font-size="14.3" fill="#000" text-anchor="end" font-weight="normal" >10<tspan dx="-1.1">,</tspan><tspan dx="-1.1">000</tspan></text>
<text x="362.7" y="369" font-family="'Liberation Serif', serif" font-size="14.3" fill="#000" text-anchor="end" font-weight="normal" >5000</text>
<text x="362.7" y="391.9" font-family="'Liberation Serif', serif" font-size="14.3" fill="#000" text-anchor="end" font-weight="normal" >2000</text>
<text x="355.3" y="411.5" font-family="'Liberation Serif', serif" font-size="14.3" fill="#000" text-anchor="end" font-weight="normal" >20</text>
<text x="357" y="452.3" font-family="'Liberation Serif', serif" font-size="14.3" fill="#000" text-anchor="end" font-weight="normal" >12</text>
<text x="354.2" y="497.4" font-family="'Liberation Serif', serif" font-size="14.3" fill="#000" text-anchor="end" font-weight="normal" >4</text>
<text x="359.7" y="516.1" font-family="'Liberation Serif', serif" font-size="14.3" fill="#000" text-anchor="end" font-weight="normal" >0.6</text>
<text x="379.8" y="532.6" font-family="'Liberation Serif', serif" font-size="14.3" fill="#000" text-anchor="middle" font-weight="normal" >0</text>
<text x="451.5" y="532.8" font-family="'Liberation Serif', serif" font-size="14.2" fill="#000" text-anchor="middle" font-weight="normal" >Time(s)</text>
<text x="522.2" y="532.6" font-family="'Liberation Serif', serif" font-size="14.3" fill="#000" text-anchor="middle" font-weight="normal" >0.01</text>
<line x1="378" y1="146.1" x2="384.3" y2="146.1" stroke="#000" stroke-width="1.6"/>
<line x1="378" y1="181.3" x2="384.3" y2="181.3" stroke="#000" stroke-width="1.6"/>
<line x1="378" y1="219" x2="384.3" y2="219" stroke="#000" stroke-width="1.6"/>
<line x1="378.5" y1="293.2" x2="384.3" y2="293.2" stroke="#000" stroke-width="1.6"/>
<line x1="378.5" y1="325.7" x2="384.3" y2="325.7" stroke="#000" stroke-width="1.6"/>
<line x1="378.5" y1="363.8" x2="384.3" y2="363.8" stroke="#000" stroke-width="1.6"/>
<line x1="379.3" y1="405.2" x2="385" y2="405.2" stroke="#000" stroke-width="1.6"/>
<line x1="379.3" y1="446.8" x2="385" y2="446.8" stroke="#000" stroke-width="1.6"/>
<line x1="379.3" y1="494.5" x2="385" y2="494.5" stroke="#000" stroke-width="1.6"/>
<polyline points="378.00,222.00 382.20,153.20 385.00,193.80 388.60,135.30 390.50,207.00 392.90,208.50 394.30,221.00 395.30,222.00 396.30,219.00 398.60,151.00 401.50,192.00 404.80,136.56 406.90,209.30 409.00,210.90 410.60,221.00 411.60,222.00 412.60,219.00 414.90,150.00 417.80,191.00 421.10,136.12 423.20,209.30 425.30,210.90 426.70,221.00 427.70,222.00 428.70,219.00 431.00,149.00 433.90,190.00 437.20,135.69 439.30,209.30 441.40,210.90 442.60,221.00 443.60,222.00 444.60,219.00 446.90,148.00 449.80,189.00 453.10,135.25 455.20,209.30 457.30,210.90 459.20,221.00 460.20,222.00 461.20,219.00 463.50,147.00 466.40,188.00 469.70,134.81 471.80,209.30 473.90,210.90 475.80,221.00 476.80,222.00 477.80,219.00 480.10,146.00 483.00,187.00 486.30,134.38 488.40,209.30 490.50,210.90 491.30,221.00 492.30,222.00 493.30,219.00 495.60,145.00 498.50,186.00 501.80,133.94 503.90,209.30 506.00,210.90 507.20,221.00 508.20,222.00 509.20,219.00 511.50,144.00 514.40,185.00 517.70,133.50 519.80,209.30 521.90,210.90 524.80,211.30" stroke="#f01010" stroke-width="1.5" fill="none" stroke-linejoin="round" stroke-linecap="round" />
<polyline points="378.50,236.80 379.80,238.60 381.30,235.30 383.50,235.80 385.50,235.00 387.00,236.00 389.50,233.60 391.50,237.20 394.50,237.80 395.60,238.70 397.60,235.50 399.60,235.80 401.10,235.10 402.60,236.00 405.10,233.40 407.10,237.20 410.10,237.80 411.90,238.70 413.90,235.50 415.90,235.80 417.40,235.10 418.90,236.00 421.40,233.40 423.40,237.20 426.40,237.80 428.00,238.70 430.00,235.50 432.00,235.80 433.50,235.10 435.00,236.00 437.50,233.40 439.50,237.20 442.50,237.80 443.90,238.70 445.90,235.50 447.90,235.80 449.40,235.10 450.90,236.00 453.40,233.40 455.40,237.20 458.40,237.80 460.50,238.70 462.50,235.50 464.50,235.80 466.00,235.10 467.50,236.00 470.00,233.40 472.00,237.20 475.00,237.80 477.10,238.70 479.10,235.50 481.10,235.80 482.60,235.10 484.10,236.00 486.60,233.40 488.60,237.20 491.60,237.80 492.60,238.70 494.60,235.50 496.60,235.80 498.10,235.10 499.60,236.00 502.10,233.40 504.10,237.20 507.10,237.80 508.50,238.70 510.50,235.50 512.50,235.80 514.00,235.10 515.50,236.00 518.00,233.40 520.00,237.20 523.00,237.80 525.00,237.60" stroke="#111" stroke-width="1.5" fill="none" stroke-linejoin="round" stroke-linecap="round" />
<polyline points="378.70,297.40 380.90,294.10 382.80,285.40 385.60,290.30 386.90,291.90 388.50,292.20 389.60,295.20 391.33,302.00 395.13,297.80 396.73,295.20 398.93,285.60 401.63,290.30 404.13,292.20 405.53,293.00 406.33,295.50 407.96,302.00 411.76,297.80 413.36,295.20 415.56,285.60 418.26,290.30 420.76,292.20 422.16,293.00 422.96,295.50 424.59,302.00 428.39,297.80 429.99,295.20 432.19,285.60 434.89,290.30 437.39,292.20 438.79,293.00 439.59,295.50 441.22,302.00 445.02,297.80 446.62,295.20 448.82,285.60 451.52,290.30 454.02,292.20 455.42,293.00 456.22,295.50 457.85,302.00 461.65,297.80 463.25,295.20 465.45,285.60 468.15,290.30 470.65,292.20 472.05,293.00 472.85,295.50 474.48,302.00 478.28,297.80 479.88,295.20 482.08,285.60 484.78,290.30 487.28,292.20 488.68,293.00 489.48,295.50 491.11,302.00 494.91,297.80 496.51,295.20 498.71,285.60 501.41,290.30 503.91,292.20 505.31,293.00 506.11,295.50 507.74,302.00 511.54,297.80 513.14,295.20 515.34,285.60 518.04,290.30 520.54,292.20 521.94,293.00 522.74,295.50 524.37,302.30" stroke="#f01010" stroke-width="1.7" fill="none" stroke-linejoin="round" stroke-linecap="round" />
<polyline points="379.00,382.00 450.00,381.00 525.00,380.30" stroke="#111" stroke-width="1.6" fill="none" stroke-linejoin="round" stroke-linecap="round" />
<polyline points="379.50,496.30 381.40,485.70 382.80,420.00 384.70,409.50 386.60,416.20 389.10,435.50 391.00,487.60 393.00,490.50 395.30,494.40 396.80,486.40 398.30,417.00 400.70,406.20 403.00,416.20 405.30,430.00 407.30,488.40 409.30,491.40 411.70,491.50 413.20,483.50 414.70,417.00 417.10,404.60 419.40,414.60 421.70,430.00 423.70,485.50 425.70,488.50 427.70,490.00 429.20,482.00 430.70,417.00 433.10,403.70 435.40,413.70 437.70,430.00 439.70,484.00 441.70,487.00 443.40,489.10 444.90,481.10 446.40,417.00 448.80,402.80 451.10,412.80 453.40,430.00 455.40,483.10 457.40,486.10 459.30,488.30 460.80,480.30 462.30,417.00 464.70,401.40 467.00,411.40 469.30,430.00 471.30,482.30 473.30,485.30 475.50,488.30 477.00,480.30 478.50,417.00 480.90,400.80 483.20,410.80 485.50,430.00 487.50,482.30 489.50,485.30 492.00,487.40 493.50,479.40 495.00,417.00 497.40,400.00 499.70,410.00 502.00,430.00 504.00,481.40 506.00,484.40 507.70,486.80 509.20,478.80 510.70,417.00 513.10,399.10 515.40,409.10 517.70,430.00 519.70,480.80 521.70,483.80 524.00,486.80" stroke="#f01010" stroke-width="1.5" fill="none" stroke-linejoin="round" stroke-linecap="round" />
<polyline points="379.30,518.50 420.00,517.80 524.50,517.30" stroke="#111" stroke-width="1.6" fill="none" stroke-linejoin="round" stroke-linecap="round" />
</svg>
</body></html>
